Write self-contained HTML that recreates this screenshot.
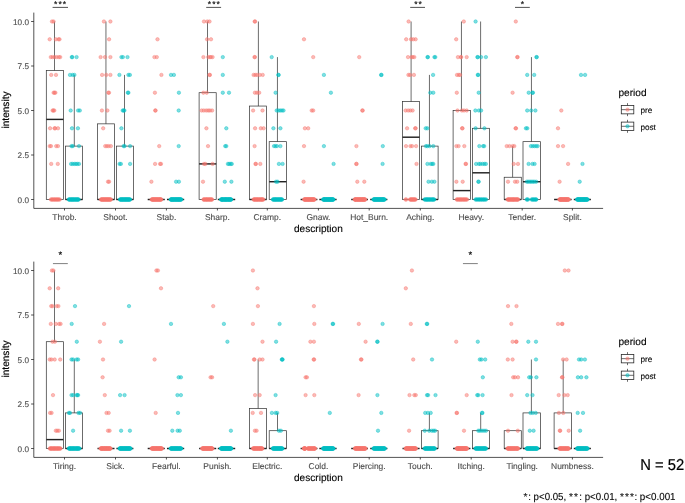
<!DOCTYPE html>
<html><head><meta charset="utf-8"><title>Pain intensity by description, pre vs post</title>
<style>html,body{margin:0;padding:0;background:#fff}body{width:685px;height:503px;overflow:hidden}svg{display:block}text{font-family:"Liberation Sans",Arial,sans-serif;text-rendering:geometricPrecision}.tk{font-size:8.45px;fill:#4d4d4d;stroke:#4d4d4d;stroke-width:.12}.ti{font-size:10.1px;fill:#000;stroke:#000;stroke-width:.12}.lg{font-size:8.2px;fill:#000;stroke:#000;stroke-width:.1}.ax{stroke:#1a1a1a;stroke-width:.75;fill:none}.bx{stroke:#333;stroke-width:.72;fill:none}.md{stroke:#222;stroke-width:1.45;fill:none}.p0{fill:#F8766D;fill-opacity:.5;stroke:#F8766D;stroke-opacity:.5;stroke-width:.8}.p1{fill:#00BFC4;fill-opacity:.5;stroke:#00BFC4;stroke-opacity:.5;stroke-width:.8}</style></head><body>
<svg width="685" height="503" viewBox="0 0 685 503">
<rect width="685" height="503" fill="#fff"/>
<g>
<path class="bx" d="M54.50 21.50V70.45"/>
<rect class="bx" x="46.30" y="70.45" width="17.10" height="129.05"/>
<path class="md" d="M46.30 119.40H63.40"/>
<path class="bx" d="M74.30 74.90V146.10"/>
<rect class="bx" x="65.50" y="146.10" width="17.10" height="53.40"/>
<path class="md" d="M65.50 199.50H82.60"/>
<path class="bx" d="M105.95 21.50V123.85"/>
<rect class="bx" x="97.50" y="123.85" width="17.00" height="75.65"/>
<path class="md" d="M97.50 199.50H114.50"/>
<path class="bx" d="M124.50 74.90V146.10"/>
<rect class="bx" x="116.40" y="146.10" width="17.00" height="53.40"/>
<path class="md" d="M116.40 199.50H133.40"/>
<path class="md" d="M147.70 199.50H164.80"/>
<path class="md" d="M167.00 199.50H184.20"/>
<path class="bx" d="M207.50 21.50V92.70"/>
<rect class="bx" x="199.10" y="92.70" width="17.10" height="106.80"/>
<path class="md" d="M199.10 163.90H216.20"/>
<path class="md" d="M217.80 199.50H235.20"/>
<path class="bx" d="M258.40 21.50V106.05"/>
<rect class="bx" x="249.50" y="106.05" width="17.10" height="93.45"/>
<path class="md" d="M249.50 199.50H266.60"/>
<path class="bx" d="M277.45 57.10V141.65"/>
<rect class="bx" x="269.20" y="141.65" width="17.20" height="57.85"/>
<path class="md" d="M269.20 181.70H286.40"/>
<path class="md" d="M300.60 199.50H317.40"/>
<path class="md" d="M319.30 199.50H336.60"/>
<path class="md" d="M351.20 199.50H368.00"/>
<path class="md" d="M370.20 199.50H387.40"/>
<path class="bx" d="M411.10 21.50V101.60"/>
<rect class="bx" x="402.50" y="101.60" width="17.10" height="97.90"/>
<path class="md" d="M402.50 137.20H419.60"/>
<path class="bx" d="M429.45 74.90V146.10"/>
<rect class="bx" x="421.50" y="146.10" width="16.60" height="53.40"/>
<path class="md" d="M421.50 199.50H438.10"/>
<path class="bx" d="M461.45 21.50V110.50"/>
<rect class="bx" x="453.10" y="110.50" width="17.30" height="89.00"/>
<path class="md" d="M453.10 190.60H470.40"/>
<path class="bx" d="M480.60 21.50V128.30"/>
<rect class="bx" x="472.40" y="128.30" width="17.20" height="71.20"/>
<path class="md" d="M472.40 172.80H489.60"/>
<path class="bx" d="M512.60 146.10V177.25"/>
<rect class="bx" x="504.20" y="177.25" width="17.10" height="22.25"/>
<path class="md" d="M504.20 199.50H521.30"/>
<path class="bx" d="M531.45 57.10V141.65"/>
<rect class="bx" x="523.00" y="141.65" width="17.50" height="57.85"/>
<path class="md" d="M523.00 181.70H540.50"/>
<path class="md" d="M554.10 199.50H571.60"/>
<path class="md" d="M573.80 199.50H590.90"/>
<circle class="p0" cx="52.0" cy="21.5" r="1.72"/>
<circle class="p0" cx="53.6" cy="21.5" r="1.72"/>
<circle class="p0" cx="49.7" cy="39.3" r="1.72"/>
<circle class="p0" cx="55.8" cy="39.3" r="1.72"/>
<circle class="p0" cx="58.5" cy="39.3" r="1.72"/>
<circle class="p0" cx="59.5" cy="39.3" r="1.72"/>
<circle class="p0" cx="50.8" cy="57.1" r="1.72"/>
<circle class="p0" cx="52.5" cy="57.1" r="1.72"/>
<circle class="p0" cx="54.5" cy="57.1" r="1.72"/>
<circle class="p0" cx="56.7" cy="57.1" r="1.72"/>
<circle class="p0" cx="58.9" cy="57.1" r="1.72"/>
<circle class="p0" cx="60.2" cy="57.1" r="1.72"/>
<circle class="p0" cx="51.2" cy="74.9" r="1.72"/>
<circle class="p0" cx="56.0" cy="74.9" r="1.72"/>
<circle class="p0" cx="53.6" cy="92.7" r="1.72"/>
<circle class="p0" cx="54.5" cy="92.7" r="1.72"/>
<circle class="p0" cx="55.4" cy="92.7" r="1.72"/>
<circle class="p0" cx="52.6" cy="110.5" r="1.72"/>
<circle class="p0" cx="53.4" cy="110.5" r="1.72"/>
<circle class="p0" cx="54.3" cy="110.5" r="1.72"/>
<circle class="p0" cx="50.1" cy="128.3" r="1.72"/>
<circle class="p0" cx="54.5" cy="128.3" r="1.72"/>
<circle class="p0" cx="55.2" cy="128.3" r="1.72"/>
<circle class="p0" cx="58.0" cy="128.3" r="1.72"/>
<circle class="p0" cx="49.7" cy="146.1" r="1.72"/>
<circle class="p0" cx="51.0" cy="146.1" r="1.72"/>
<circle class="p0" cx="56.2" cy="146.1" r="1.72"/>
<circle class="p0" cx="58.0" cy="146.1" r="1.72"/>
<circle class="p0" cx="51.2" cy="163.9" r="1.72"/>
<circle class="p0" cx="57.8" cy="163.9" r="1.72"/>
<circle class="p0" cx="50.9" cy="199.5" r="1.72"/>
<circle class="p0" cx="51.5" cy="199.5" r="1.72"/>
<circle class="p0" cx="52.5" cy="199.5" r="1.72"/>
<circle class="p0" cx="52.9" cy="199.5" r="1.72"/>
<circle class="p0" cx="53.9" cy="199.5" r="1.72"/>
<circle class="p0" cx="54.5" cy="199.5" r="1.72"/>
<circle class="p0" cx="55.2" cy="199.5" r="1.72"/>
<circle class="p0" cx="56.1" cy="199.5" r="1.72"/>
<circle class="p0" cx="56.6" cy="199.5" r="1.72"/>
<circle class="p0" cx="57.5" cy="199.5" r="1.72"/>
<circle class="p0" cx="58.1" cy="199.5" r="1.72"/>
<circle class="p0" cx="58.9" cy="199.5" r="1.72"/>
<circle class="p0" cx="59.8" cy="199.5" r="1.72"/>
<circle class="p1" cx="71.8" cy="57.1" r="1.72"/>
<circle class="p1" cx="72.3" cy="57.1" r="1.72"/>
<circle class="p1" cx="76.6" cy="57.1" r="1.72"/>
<circle class="p1" cx="70.0" cy="74.9" r="1.72"/>
<circle class="p1" cx="72.6" cy="74.9" r="1.72"/>
<circle class="p1" cx="74.4" cy="74.9" r="1.72"/>
<circle class="p1" cx="70.7" cy="110.5" r="1.72"/>
<circle class="p1" cx="78.1" cy="110.5" r="1.72"/>
<circle class="p1" cx="79.8" cy="110.5" r="1.72"/>
<circle class="p1" cx="72.0" cy="128.3" r="1.72"/>
<circle class="p1" cx="77.9" cy="128.3" r="1.72"/>
<circle class="p1" cx="71.5" cy="146.1" r="1.72"/>
<circle class="p1" cx="72.8" cy="146.1" r="1.72"/>
<circle class="p1" cx="79.0" cy="146.1" r="1.72"/>
<circle class="p1" cx="71.1" cy="163.9" r="1.72"/>
<circle class="p1" cx="72.6" cy="163.9" r="1.72"/>
<circle class="p1" cx="74.4" cy="163.9" r="1.72"/>
<circle class="p1" cx="75.9" cy="163.9" r="1.72"/>
<circle class="p1" cx="77.4" cy="163.9" r="1.72"/>
<circle class="p1" cx="79.0" cy="163.9" r="1.72"/>
<circle class="p1" cx="68.8" cy="199.5" r="1.72"/>
<circle class="p1" cx="69.1" cy="199.5" r="1.72"/>
<circle class="p1" cx="69.6" cy="199.5" r="1.72"/>
<circle class="p1" cx="70.2" cy="199.5" r="1.72"/>
<circle class="p1" cx="70.8" cy="199.5" r="1.72"/>
<circle class="p1" cx="71.1" cy="199.5" r="1.72"/>
<circle class="p1" cx="71.6" cy="199.5" r="1.72"/>
<circle class="p1" cx="72.2" cy="199.5" r="1.72"/>
<circle class="p1" cx="72.4" cy="199.5" r="1.72"/>
<circle class="p1" cx="73.1" cy="199.5" r="1.72"/>
<circle class="p1" cx="73.4" cy="199.5" r="1.72"/>
<circle class="p1" cx="73.9" cy="199.5" r="1.72"/>
<circle class="p1" cx="74.4" cy="199.5" r="1.72"/>
<circle class="p1" cx="74.9" cy="199.5" r="1.72"/>
<circle class="p1" cx="75.5" cy="199.5" r="1.72"/>
<circle class="p1" cx="75.8" cy="199.5" r="1.72"/>
<circle class="p1" cx="76.4" cy="199.5" r="1.72"/>
<circle class="p1" cx="76.9" cy="199.5" r="1.72"/>
<circle class="p1" cx="77.3" cy="199.5" r="1.72"/>
<circle class="p1" cx="77.9" cy="199.5" r="1.72"/>
<circle class="p1" cx="78.2" cy="199.5" r="1.72"/>
<circle class="p1" cx="78.7" cy="199.5" r="1.72"/>
<circle class="p0" cx="103.9" cy="21.5" r="1.72"/>
<circle class="p0" cx="110.4" cy="21.5" r="1.72"/>
<circle class="p0" cx="109.1" cy="39.3" r="1.72"/>
<circle class="p0" cx="100.6" cy="57.1" r="1.72"/>
<circle class="p0" cx="105.0" cy="57.1" r="1.72"/>
<circle class="p0" cx="110.4" cy="57.1" r="1.72"/>
<circle class="p0" cx="102.1" cy="74.9" r="1.72"/>
<circle class="p0" cx="106.3" cy="74.9" r="1.72"/>
<circle class="p0" cx="110.4" cy="74.9" r="1.72"/>
<circle class="p0" cx="108.3" cy="92.7" r="1.72"/>
<circle class="p0" cx="109.0" cy="92.7" r="1.72"/>
<circle class="p0" cx="101.9" cy="110.5" r="1.72"/>
<circle class="p0" cx="107.4" cy="110.5" r="1.72"/>
<circle class="p0" cx="103.2" cy="128.3" r="1.72"/>
<circle class="p0" cx="105.2" cy="146.1" r="1.72"/>
<circle class="p0" cx="106.9" cy="146.1" r="1.72"/>
<circle class="p0" cx="108.7" cy="146.1" r="1.72"/>
<circle class="p0" cx="110.9" cy="146.1" r="1.72"/>
<circle class="p0" cx="108.0" cy="181.7" r="1.72"/>
<circle class="p0" cx="109.1" cy="181.7" r="1.72"/>
<circle class="p0" cx="100.9" cy="199.5" r="1.72"/>
<circle class="p0" cx="101.3" cy="199.5" r="1.72"/>
<circle class="p0" cx="101.7" cy="199.5" r="1.72"/>
<circle class="p0" cx="102.1" cy="199.5" r="1.72"/>
<circle class="p0" cx="102.5" cy="199.5" r="1.72"/>
<circle class="p0" cx="102.9" cy="199.5" r="1.72"/>
<circle class="p0" cx="103.3" cy="199.5" r="1.72"/>
<circle class="p0" cx="103.8" cy="199.5" r="1.72"/>
<circle class="p0" cx="104.1" cy="199.5" r="1.72"/>
<circle class="p0" cx="104.4" cy="199.5" r="1.72"/>
<circle class="p0" cx="104.9" cy="199.5" r="1.72"/>
<circle class="p0" cx="105.3" cy="199.5" r="1.72"/>
<circle class="p0" cx="105.8" cy="199.5" r="1.72"/>
<circle class="p0" cx="106.2" cy="199.5" r="1.72"/>
<circle class="p0" cx="106.4" cy="199.5" r="1.72"/>
<circle class="p0" cx="107.0" cy="199.5" r="1.72"/>
<circle class="p0" cx="107.2" cy="199.5" r="1.72"/>
<circle class="p0" cx="107.7" cy="199.5" r="1.72"/>
<circle class="p0" cx="108.2" cy="199.5" r="1.72"/>
<circle class="p0" cx="108.4" cy="199.5" r="1.72"/>
<circle class="p0" cx="108.9" cy="199.5" r="1.72"/>
<circle class="p0" cx="109.2" cy="199.5" r="1.72"/>
<circle class="p0" cx="109.7" cy="199.5" r="1.72"/>
<circle class="p0" cx="110.2" cy="199.5" r="1.72"/>
<circle class="p0" cx="110.5" cy="199.5" r="1.72"/>
<circle class="p0" cx="110.9" cy="199.5" r="1.72"/>
<circle class="p1" cx="121.4" cy="57.1" r="1.72"/>
<circle class="p1" cx="122.9" cy="57.1" r="1.72"/>
<circle class="p1" cx="127.5" cy="57.1" r="1.72"/>
<circle class="p1" cx="119.4" cy="74.9" r="1.72"/>
<circle class="p1" cx="128.4" cy="74.9" r="1.72"/>
<circle class="p1" cx="129.9" cy="74.9" r="1.72"/>
<circle class="p1" cx="127.8" cy="92.7" r="1.72"/>
<circle class="p1" cx="128.4" cy="92.7" r="1.72"/>
<circle class="p1" cx="122.7" cy="110.5" r="1.72"/>
<circle class="p1" cx="123.6" cy="110.5" r="1.72"/>
<circle class="p1" cx="124.4" cy="110.5" r="1.72"/>
<circle class="p1" cx="121.4" cy="128.3" r="1.72"/>
<circle class="p1" cx="123.6" cy="146.1" r="1.72"/>
<circle class="p1" cx="124.6" cy="146.1" r="1.72"/>
<circle class="p1" cx="130.1" cy="146.1" r="1.72"/>
<circle class="p1" cx="119.6" cy="163.9" r="1.72"/>
<circle class="p1" cx="120.9" cy="163.9" r="1.72"/>
<circle class="p1" cx="130.1" cy="163.9" r="1.72"/>
<circle class="p1" cx="119.9" cy="199.5" r="1.72"/>
<circle class="p1" cx="120.3" cy="199.5" r="1.72"/>
<circle class="p1" cx="120.7" cy="199.5" r="1.72"/>
<circle class="p1" cx="121.1" cy="199.5" r="1.72"/>
<circle class="p1" cx="121.4" cy="199.5" r="1.72"/>
<circle class="p1" cx="121.9" cy="199.5" r="1.72"/>
<circle class="p1" cx="122.3" cy="199.5" r="1.72"/>
<circle class="p1" cx="122.6" cy="199.5" r="1.72"/>
<circle class="p1" cx="123.0" cy="199.5" r="1.72"/>
<circle class="p1" cx="123.2" cy="199.5" r="1.72"/>
<circle class="p1" cx="123.8" cy="199.5" r="1.72"/>
<circle class="p1" cx="124.1" cy="199.5" r="1.72"/>
<circle class="p1" cx="124.6" cy="199.5" r="1.72"/>
<circle class="p1" cx="124.9" cy="199.5" r="1.72"/>
<circle class="p1" cx="125.2" cy="199.5" r="1.72"/>
<circle class="p1" cx="125.6" cy="199.5" r="1.72"/>
<circle class="p1" cx="126.0" cy="199.5" r="1.72"/>
<circle class="p1" cx="126.3" cy="199.5" r="1.72"/>
<circle class="p1" cx="126.8" cy="199.5" r="1.72"/>
<circle class="p1" cx="127.1" cy="199.5" r="1.72"/>
<circle class="p1" cx="127.4" cy="199.5" r="1.72"/>
<circle class="p1" cx="127.8" cy="199.5" r="1.72"/>
<circle class="p1" cx="128.4" cy="199.5" r="1.72"/>
<circle class="p1" cx="128.6" cy="199.5" r="1.72"/>
<circle class="p1" cx="129.0" cy="199.5" r="1.72"/>
<circle class="p1" cx="129.4" cy="199.5" r="1.72"/>
<circle class="p1" cx="129.9" cy="199.5" r="1.72"/>
<circle class="p1" cx="130.1" cy="199.5" r="1.72"/>
<circle class="p0" cx="157.5" cy="39.3" r="1.72"/>
<circle class="p0" cx="154.4" cy="57.1" r="1.72"/>
<circle class="p0" cx="156.8" cy="57.1" r="1.72"/>
<circle class="p0" cx="161.4" cy="74.9" r="1.72"/>
<circle class="p0" cx="154.9" cy="92.7" r="1.72"/>
<circle class="p0" cx="155.3" cy="110.5" r="1.72"/>
<circle class="p0" cx="155.5" cy="110.5" r="1.72"/>
<circle class="p0" cx="159.2" cy="146.1" r="1.72"/>
<circle class="p0" cx="155.1" cy="163.9" r="1.72"/>
<circle class="p0" cx="160.1" cy="163.9" r="1.72"/>
<circle class="p0" cx="161.0" cy="163.9" r="1.72"/>
<circle class="p0" cx="151.4" cy="181.7" r="1.72"/>
<circle class="p0" cx="151.6" cy="199.5" r="1.72"/>
<circle class="p0" cx="151.9" cy="199.5" r="1.72"/>
<circle class="p0" cx="152.3" cy="199.5" r="1.72"/>
<circle class="p0" cx="152.7" cy="199.5" r="1.72"/>
<circle class="p0" cx="153.0" cy="199.5" r="1.72"/>
<circle class="p0" cx="153.2" cy="199.5" r="1.72"/>
<circle class="p0" cx="153.6" cy="199.5" r="1.72"/>
<circle class="p0" cx="153.9" cy="199.5" r="1.72"/>
<circle class="p0" cx="154.4" cy="199.5" r="1.72"/>
<circle class="p0" cx="154.7" cy="199.5" r="1.72"/>
<circle class="p0" cx="154.9" cy="199.5" r="1.72"/>
<circle class="p0" cx="155.2" cy="199.5" r="1.72"/>
<circle class="p0" cx="155.6" cy="199.5" r="1.72"/>
<circle class="p0" cx="155.9" cy="199.5" r="1.72"/>
<circle class="p0" cx="156.3" cy="199.5" r="1.72"/>
<circle class="p0" cx="156.6" cy="199.5" r="1.72"/>
<circle class="p0" cx="156.9" cy="199.5" r="1.72"/>
<circle class="p0" cx="157.2" cy="199.5" r="1.72"/>
<circle class="p0" cx="157.6" cy="199.5" r="1.72"/>
<circle class="p0" cx="157.9" cy="199.5" r="1.72"/>
<circle class="p0" cx="158.3" cy="199.5" r="1.72"/>
<circle class="p0" cx="158.7" cy="199.5" r="1.72"/>
<circle class="p0" cx="159.0" cy="199.5" r="1.72"/>
<circle class="p0" cx="159.3" cy="199.5" r="1.72"/>
<circle class="p0" cx="159.7" cy="199.5" r="1.72"/>
<circle class="p0" cx="160.0" cy="199.5" r="1.72"/>
<circle class="p0" cx="160.2" cy="199.5" r="1.72"/>
<circle class="p0" cx="160.7" cy="199.5" r="1.72"/>
<circle class="p0" cx="161.0" cy="199.5" r="1.72"/>
<circle class="p0" cx="161.3" cy="199.5" r="1.72"/>
<circle class="p1" cx="171.0" cy="74.9" r="1.72"/>
<circle class="p1" cx="173.9" cy="74.9" r="1.72"/>
<circle class="p1" cx="178.9" cy="92.7" r="1.72"/>
<circle class="p1" cx="178.7" cy="110.5" r="1.72"/>
<circle class="p1" cx="178.7" cy="146.1" r="1.72"/>
<circle class="p1" cx="176.1" cy="181.7" r="1.72"/>
<circle class="p1" cx="178.9" cy="181.7" r="1.72"/>
<circle class="p1" cx="170.7" cy="199.5" r="1.72"/>
<circle class="p1" cx="170.9" cy="199.5" r="1.72"/>
<circle class="p1" cx="171.2" cy="199.5" r="1.72"/>
<circle class="p1" cx="171.4" cy="199.5" r="1.72"/>
<circle class="p1" cx="171.8" cy="199.5" r="1.72"/>
<circle class="p1" cx="172.0" cy="199.5" r="1.72"/>
<circle class="p1" cx="172.4" cy="199.5" r="1.72"/>
<circle class="p1" cx="172.7" cy="199.5" r="1.72"/>
<circle class="p1" cx="173.0" cy="199.5" r="1.72"/>
<circle class="p1" cx="173.3" cy="199.5" r="1.72"/>
<circle class="p1" cx="173.6" cy="199.5" r="1.72"/>
<circle class="p1" cx="173.9" cy="199.5" r="1.72"/>
<circle class="p1" cx="174.2" cy="199.5" r="1.72"/>
<circle class="p1" cx="174.5" cy="199.5" r="1.72"/>
<circle class="p1" cx="174.9" cy="199.5" r="1.72"/>
<circle class="p1" cx="175.1" cy="199.5" r="1.72"/>
<circle class="p1" cx="175.6" cy="199.5" r="1.72"/>
<circle class="p1" cx="175.8" cy="199.5" r="1.72"/>
<circle class="p1" cx="176.0" cy="199.5" r="1.72"/>
<circle class="p1" cx="176.4" cy="199.5" r="1.72"/>
<circle class="p1" cx="176.7" cy="199.5" r="1.72"/>
<circle class="p1" cx="177.0" cy="199.5" r="1.72"/>
<circle class="p1" cx="177.3" cy="199.5" r="1.72"/>
<circle class="p1" cx="177.7" cy="199.5" r="1.72"/>
<circle class="p1" cx="178.0" cy="199.5" r="1.72"/>
<circle class="p1" cx="178.2" cy="199.5" r="1.72"/>
<circle class="p1" cx="178.5" cy="199.5" r="1.72"/>
<circle class="p1" cx="178.8" cy="199.5" r="1.72"/>
<circle class="p1" cx="179.1" cy="199.5" r="1.72"/>
<circle class="p1" cx="179.4" cy="199.5" r="1.72"/>
<circle class="p1" cx="179.7" cy="199.5" r="1.72"/>
<circle class="p1" cx="180.1" cy="199.5" r="1.72"/>
<circle class="p1" cx="180.3" cy="199.5" r="1.72"/>
<circle class="p1" cx="180.6" cy="199.5" r="1.72"/>
<circle class="p1" cx="181.1" cy="199.5" r="1.72"/>
<circle class="p1" cx="181.3" cy="199.5" r="1.72"/>
<circle class="p0" cx="204.0" cy="21.5" r="1.72"/>
<circle class="p0" cx="207.3" cy="21.5" r="1.72"/>
<circle class="p0" cx="209.5" cy="21.5" r="1.72"/>
<circle class="p0" cx="207.1" cy="39.3" r="1.72"/>
<circle class="p0" cx="211.0" cy="39.3" r="1.72"/>
<circle class="p0" cx="203.4" cy="57.1" r="1.72"/>
<circle class="p0" cx="208.2" cy="57.1" r="1.72"/>
<circle class="p0" cx="209.9" cy="57.1" r="1.72"/>
<circle class="p0" cx="211.0" cy="57.1" r="1.72"/>
<circle class="p0" cx="212.6" cy="57.1" r="1.72"/>
<circle class="p0" cx="209.5" cy="74.9" r="1.72"/>
<circle class="p0" cx="209.9" cy="74.9" r="1.72"/>
<circle class="p0" cx="203.4" cy="92.7" r="1.72"/>
<circle class="p0" cx="206.7" cy="92.7" r="1.72"/>
<circle class="p0" cx="201.6" cy="110.5" r="1.72"/>
<circle class="p0" cx="203.8" cy="110.5" r="1.72"/>
<circle class="p0" cx="206.2" cy="110.5" r="1.72"/>
<circle class="p0" cx="208.2" cy="110.5" r="1.72"/>
<circle class="p0" cx="209.9" cy="110.5" r="1.72"/>
<circle class="p0" cx="212.1" cy="110.5" r="1.72"/>
<circle class="p0" cx="206.4" cy="128.3" r="1.72"/>
<circle class="p0" cx="208.0" cy="146.1" r="1.72"/>
<circle class="p0" cx="204.0" cy="163.9" r="1.72"/>
<circle class="p0" cx="205.4" cy="163.9" r="1.72"/>
<circle class="p0" cx="212.6" cy="163.9" r="1.72"/>
<circle class="p0" cx="203.0" cy="181.7" r="1.72"/>
<circle class="p0" cx="203.4" cy="199.5" r="1.72"/>
<circle class="p0" cx="203.9" cy="199.5" r="1.72"/>
<circle class="p0" cx="204.3" cy="199.5" r="1.72"/>
<circle class="p0" cx="204.9" cy="199.5" r="1.72"/>
<circle class="p0" cx="205.6" cy="199.5" r="1.72"/>
<circle class="p0" cx="206.1" cy="199.5" r="1.72"/>
<circle class="p0" cx="206.5" cy="199.5" r="1.72"/>
<circle class="p0" cx="206.9" cy="199.5" r="1.72"/>
<circle class="p0" cx="207.5" cy="199.5" r="1.72"/>
<circle class="p0" cx="207.9" cy="199.5" r="1.72"/>
<circle class="p0" cx="208.6" cy="199.5" r="1.72"/>
<circle class="p0" cx="209.0" cy="199.5" r="1.72"/>
<circle class="p0" cx="209.6" cy="199.5" r="1.72"/>
<circle class="p0" cx="210.0" cy="199.5" r="1.72"/>
<circle class="p0" cx="210.5" cy="199.5" r="1.72"/>
<circle class="p0" cx="211.2" cy="199.5" r="1.72"/>
<circle class="p0" cx="211.7" cy="199.5" r="1.72"/>
<circle class="p0" cx="212.1" cy="199.5" r="1.72"/>
<circle class="p1" cx="222.8" cy="57.1" r="1.72"/>
<circle class="p1" cx="222.8" cy="74.9" r="1.72"/>
<circle class="p1" cx="222.8" cy="92.7" r="1.72"/>
<circle class="p1" cx="229.0" cy="92.7" r="1.72"/>
<circle class="p1" cx="226.3" cy="128.3" r="1.72"/>
<circle class="p1" cx="225.2" cy="146.1" r="1.72"/>
<circle class="p1" cx="226.3" cy="146.1" r="1.72"/>
<circle class="p1" cx="227.9" cy="163.9" r="1.72"/>
<circle class="p1" cx="229.2" cy="163.9" r="1.72"/>
<circle class="p1" cx="230.7" cy="163.9" r="1.72"/>
<circle class="p1" cx="231.8" cy="163.9" r="1.72"/>
<circle class="p1" cx="224.8" cy="181.7" r="1.72"/>
<circle class="p1" cx="231.4" cy="181.7" r="1.72"/>
<circle class="p1" cx="221.0" cy="199.5" r="1.72"/>
<circle class="p1" cx="221.3" cy="199.5" r="1.72"/>
<circle class="p1" cx="221.6" cy="199.5" r="1.72"/>
<circle class="p1" cx="221.8" cy="199.5" r="1.72"/>
<circle class="p1" cx="222.2" cy="199.5" r="1.72"/>
<circle class="p1" cx="222.4" cy="199.5" r="1.72"/>
<circle class="p1" cx="222.7" cy="199.5" r="1.72"/>
<circle class="p1" cx="223.0" cy="199.5" r="1.72"/>
<circle class="p1" cx="223.4" cy="199.5" r="1.72"/>
<circle class="p1" cx="223.7" cy="199.5" r="1.72"/>
<circle class="p1" cx="224.1" cy="199.5" r="1.72"/>
<circle class="p1" cx="224.5" cy="199.5" r="1.72"/>
<circle class="p1" cx="224.7" cy="199.5" r="1.72"/>
<circle class="p1" cx="225.1" cy="199.5" r="1.72"/>
<circle class="p1" cx="225.4" cy="199.5" r="1.72"/>
<circle class="p1" cx="225.7" cy="199.5" r="1.72"/>
<circle class="p1" cx="225.9" cy="199.5" r="1.72"/>
<circle class="p1" cx="226.2" cy="199.5" r="1.72"/>
<circle class="p1" cx="226.5" cy="199.5" r="1.72"/>
<circle class="p1" cx="226.8" cy="199.5" r="1.72"/>
<circle class="p1" cx="227.1" cy="199.5" r="1.72"/>
<circle class="p1" cx="227.5" cy="199.5" r="1.72"/>
<circle class="p1" cx="227.9" cy="199.5" r="1.72"/>
<circle class="p1" cx="228.2" cy="199.5" r="1.72"/>
<circle class="p1" cx="228.5" cy="199.5" r="1.72"/>
<circle class="p1" cx="228.8" cy="199.5" r="1.72"/>
<circle class="p1" cx="229.2" cy="199.5" r="1.72"/>
<circle class="p1" cx="229.3" cy="199.5" r="1.72"/>
<circle class="p1" cx="229.8" cy="199.5" r="1.72"/>
<circle class="p1" cx="230.1" cy="199.5" r="1.72"/>
<circle class="p1" cx="230.4" cy="199.5" r="1.72"/>
<circle class="p1" cx="230.7" cy="199.5" r="1.72"/>
<circle class="p1" cx="231.0" cy="199.5" r="1.72"/>
<circle class="p1" cx="231.2" cy="199.5" r="1.72"/>
<circle class="p0" cx="254.7" cy="21.5" r="1.72"/>
<circle class="p0" cx="255.1" cy="21.5" r="1.72"/>
<circle class="p0" cx="254.5" cy="57.1" r="1.72"/>
<circle class="p0" cx="254.9" cy="57.1" r="1.72"/>
<circle class="p0" cx="253.6" cy="74.9" r="1.72"/>
<circle class="p0" cx="255.3" cy="74.9" r="1.72"/>
<circle class="p0" cx="257.0" cy="74.9" r="1.72"/>
<circle class="p0" cx="259.7" cy="74.9" r="1.72"/>
<circle class="p0" cx="262.7" cy="74.9" r="1.72"/>
<circle class="p0" cx="254.9" cy="92.7" r="1.72"/>
<circle class="p0" cx="257.0" cy="92.7" r="1.72"/>
<circle class="p0" cx="259.2" cy="92.7" r="1.72"/>
<circle class="p0" cx="253.1" cy="110.5" r="1.72"/>
<circle class="p0" cx="262.5" cy="110.5" r="1.72"/>
<circle class="p0" cx="255.1" cy="128.3" r="1.72"/>
<circle class="p0" cx="260.8" cy="128.3" r="1.72"/>
<circle class="p0" cx="263.6" cy="128.3" r="1.72"/>
<circle class="p0" cx="254.6" cy="146.1" r="1.72"/>
<circle class="p0" cx="255.5" cy="163.9" r="1.72"/>
<circle class="p0" cx="255.9" cy="163.9" r="1.72"/>
<circle class="p0" cx="260.3" cy="163.9" r="1.72"/>
<circle class="p0" cx="253.6" cy="199.5" r="1.72"/>
<circle class="p0" cx="253.9" cy="199.5" r="1.72"/>
<circle class="p0" cx="254.5" cy="199.5" r="1.72"/>
<circle class="p0" cx="255.0" cy="199.5" r="1.72"/>
<circle class="p0" cx="255.4" cy="199.5" r="1.72"/>
<circle class="p0" cx="255.8" cy="199.5" r="1.72"/>
<circle class="p0" cx="256.5" cy="199.5" r="1.72"/>
<circle class="p0" cx="256.9" cy="199.5" r="1.72"/>
<circle class="p0" cx="257.2" cy="199.5" r="1.72"/>
<circle class="p0" cx="257.6" cy="199.5" r="1.72"/>
<circle class="p0" cx="258.1" cy="199.5" r="1.72"/>
<circle class="p0" cx="258.8" cy="199.5" r="1.72"/>
<circle class="p0" cx="259.2" cy="199.5" r="1.72"/>
<circle class="p0" cx="259.5" cy="199.5" r="1.72"/>
<circle class="p0" cx="260.2" cy="199.5" r="1.72"/>
<circle class="p0" cx="260.7" cy="199.5" r="1.72"/>
<circle class="p0" cx="261.1" cy="199.5" r="1.72"/>
<circle class="p0" cx="261.5" cy="199.5" r="1.72"/>
<circle class="p0" cx="262.0" cy="199.5" r="1.72"/>
<circle class="p0" cx="262.4" cy="199.5" r="1.72"/>
<circle class="p0" cx="262.8" cy="199.5" r="1.72"/>
<circle class="p0" cx="263.4" cy="199.5" r="1.72"/>
<circle class="p1" cx="271.7" cy="57.1" r="1.72"/>
<circle class="p1" cx="278.3" cy="74.9" r="1.72"/>
<circle class="p1" cx="278.7" cy="74.9" r="1.72"/>
<circle class="p1" cx="275.6" cy="92.7" r="1.72"/>
<circle class="p1" cx="276.7" cy="110.5" r="1.72"/>
<circle class="p1" cx="278.5" cy="110.5" r="1.72"/>
<circle class="p1" cx="280.3" cy="110.5" r="1.72"/>
<circle class="p1" cx="282.0" cy="110.5" r="1.72"/>
<circle class="p1" cx="283.5" cy="110.5" r="1.72"/>
<circle class="p1" cx="273.4" cy="128.3" r="1.72"/>
<circle class="p1" cx="280.4" cy="128.3" r="1.72"/>
<circle class="p1" cx="274.0" cy="146.1" r="1.72"/>
<circle class="p1" cx="275.5" cy="146.1" r="1.72"/>
<circle class="p1" cx="277.0" cy="146.1" r="1.72"/>
<circle class="p1" cx="280.4" cy="146.1" r="1.72"/>
<circle class="p1" cx="278.9" cy="163.9" r="1.72"/>
<circle class="p1" cx="282.6" cy="163.9" r="1.72"/>
<circle class="p1" cx="276.0" cy="181.7" r="1.72"/>
<circle class="p1" cx="277.6" cy="181.7" r="1.72"/>
<circle class="p1" cx="272.8" cy="199.5" r="1.72"/>
<circle class="p1" cx="273.2" cy="199.5" r="1.72"/>
<circle class="p1" cx="273.8" cy="199.5" r="1.72"/>
<circle class="p1" cx="274.1" cy="199.5" r="1.72"/>
<circle class="p1" cx="274.7" cy="199.5" r="1.72"/>
<circle class="p1" cx="275.1" cy="199.5" r="1.72"/>
<circle class="p1" cx="275.4" cy="199.5" r="1.72"/>
<circle class="p1" cx="275.8" cy="199.5" r="1.72"/>
<circle class="p1" cx="276.3" cy="199.5" r="1.72"/>
<circle class="p1" cx="276.7" cy="199.5" r="1.72"/>
<circle class="p1" cx="277.3" cy="199.5" r="1.72"/>
<circle class="p1" cx="277.6" cy="199.5" r="1.72"/>
<circle class="p1" cx="278.1" cy="199.5" r="1.72"/>
<circle class="p1" cx="278.5" cy="199.5" r="1.72"/>
<circle class="p1" cx="279.1" cy="199.5" r="1.72"/>
<circle class="p1" cx="279.4" cy="199.5" r="1.72"/>
<circle class="p1" cx="279.9" cy="199.5" r="1.72"/>
<circle class="p1" cx="280.4" cy="199.5" r="1.72"/>
<circle class="p1" cx="280.9" cy="199.5" r="1.72"/>
<circle class="p1" cx="281.2" cy="199.5" r="1.72"/>
<circle class="p1" cx="281.8" cy="199.5" r="1.72"/>
<circle class="p1" cx="282.1" cy="199.5" r="1.72"/>
<circle class="p0" cx="304.0" cy="39.3" r="1.72"/>
<circle class="p0" cx="313.2" cy="57.1" r="1.72"/>
<circle class="p0" cx="311.7" cy="110.5" r="1.72"/>
<circle class="p0" cx="313.2" cy="110.5" r="1.72"/>
<circle class="p0" cx="304.9" cy="128.3" r="1.72"/>
<circle class="p0" cx="308.2" cy="128.3" r="1.72"/>
<circle class="p0" cx="304.0" cy="146.1" r="1.72"/>
<circle class="p0" cx="303.6" cy="181.7" r="1.72"/>
<circle class="p0" cx="304.1" cy="199.5" r="1.72"/>
<circle class="p0" cx="304.4" cy="199.5" r="1.72"/>
<circle class="p0" cx="304.6" cy="199.5" r="1.72"/>
<circle class="p0" cx="305.0" cy="199.5" r="1.72"/>
<circle class="p0" cx="305.2" cy="199.5" r="1.72"/>
<circle class="p0" cx="305.5" cy="199.5" r="1.72"/>
<circle class="p0" cx="305.9" cy="199.5" r="1.72"/>
<circle class="p0" cx="306.1" cy="199.5" r="1.72"/>
<circle class="p0" cx="306.5" cy="199.5" r="1.72"/>
<circle class="p0" cx="306.8" cy="199.5" r="1.72"/>
<circle class="p0" cx="307.1" cy="199.5" r="1.72"/>
<circle class="p0" cx="307.3" cy="199.5" r="1.72"/>
<circle class="p0" cx="307.7" cy="199.5" r="1.72"/>
<circle class="p0" cx="308.0" cy="199.5" r="1.72"/>
<circle class="p0" cx="308.3" cy="199.5" r="1.72"/>
<circle class="p0" cx="308.5" cy="199.5" r="1.72"/>
<circle class="p0" cx="308.9" cy="199.5" r="1.72"/>
<circle class="p0" cx="309.1" cy="199.5" r="1.72"/>
<circle class="p0" cx="309.4" cy="199.5" r="1.72"/>
<circle class="p0" cx="309.8" cy="199.5" r="1.72"/>
<circle class="p0" cx="310.0" cy="199.5" r="1.72"/>
<circle class="p0" cx="310.4" cy="199.5" r="1.72"/>
<circle class="p0" cx="310.7" cy="199.5" r="1.72"/>
<circle class="p0" cx="311.0" cy="199.5" r="1.72"/>
<circle class="p0" cx="311.2" cy="199.5" r="1.72"/>
<circle class="p0" cx="311.5" cy="199.5" r="1.72"/>
<circle class="p0" cx="311.8" cy="199.5" r="1.72"/>
<circle class="p0" cx="312.1" cy="199.5" r="1.72"/>
<circle class="p0" cx="312.5" cy="199.5" r="1.72"/>
<circle class="p0" cx="312.7" cy="199.5" r="1.72"/>
<circle class="p0" cx="313.0" cy="199.5" r="1.72"/>
<circle class="p0" cx="313.3" cy="199.5" r="1.72"/>
<circle class="p0" cx="313.7" cy="199.5" r="1.72"/>
<circle class="p0" cx="313.9" cy="199.5" r="1.72"/>
<circle class="p0" cx="314.3" cy="199.5" r="1.72"/>
<circle class="p0" cx="314.5" cy="199.5" r="1.72"/>
<circle class="p1" cx="323.9" cy="74.9" r="1.72"/>
<circle class="p1" cx="330.9" cy="92.7" r="1.72"/>
<circle class="p1" cx="323.9" cy="146.1" r="1.72"/>
<circle class="p1" cx="333.6" cy="163.9" r="1.72"/>
<circle class="p1" cx="323.1" cy="199.5" r="1.72"/>
<circle class="p1" cx="323.4" cy="199.5" r="1.72"/>
<circle class="p1" cx="323.7" cy="199.5" r="1.72"/>
<circle class="p1" cx="324.0" cy="199.5" r="1.72"/>
<circle class="p1" cx="324.1" cy="199.5" r="1.72"/>
<circle class="p1" cx="324.4" cy="199.5" r="1.72"/>
<circle class="p1" cx="324.7" cy="199.5" r="1.72"/>
<circle class="p1" cx="324.9" cy="199.5" r="1.72"/>
<circle class="p1" cx="325.2" cy="199.5" r="1.72"/>
<circle class="p1" cx="325.4" cy="199.5" r="1.72"/>
<circle class="p1" cx="325.8" cy="199.5" r="1.72"/>
<circle class="p1" cx="326.1" cy="199.5" r="1.72"/>
<circle class="p1" cx="326.4" cy="199.5" r="1.72"/>
<circle class="p1" cx="326.5" cy="199.5" r="1.72"/>
<circle class="p1" cx="326.9" cy="199.5" r="1.72"/>
<circle class="p1" cx="327.1" cy="199.5" r="1.72"/>
<circle class="p1" cx="327.3" cy="199.5" r="1.72"/>
<circle class="p1" cx="327.7" cy="199.5" r="1.72"/>
<circle class="p1" cx="328.0" cy="199.5" r="1.72"/>
<circle class="p1" cx="328.1" cy="199.5" r="1.72"/>
<circle class="p1" cx="328.5" cy="199.5" r="1.72"/>
<circle class="p1" cx="328.7" cy="199.5" r="1.72"/>
<circle class="p1" cx="329.0" cy="199.5" r="1.72"/>
<circle class="p1" cx="329.3" cy="199.5" r="1.72"/>
<circle class="p1" cx="329.6" cy="199.5" r="1.72"/>
<circle class="p1" cx="329.7" cy="199.5" r="1.72"/>
<circle class="p1" cx="330.0" cy="199.5" r="1.72"/>
<circle class="p1" cx="330.3" cy="199.5" r="1.72"/>
<circle class="p1" cx="330.5" cy="199.5" r="1.72"/>
<circle class="p1" cx="330.8" cy="199.5" r="1.72"/>
<circle class="p1" cx="331.1" cy="199.5" r="1.72"/>
<circle class="p1" cx="331.4" cy="199.5" r="1.72"/>
<circle class="p1" cx="331.6" cy="199.5" r="1.72"/>
<circle class="p1" cx="331.9" cy="199.5" r="1.72"/>
<circle class="p1" cx="332.2" cy="199.5" r="1.72"/>
<circle class="p1" cx="332.4" cy="199.5" r="1.72"/>
<circle class="p1" cx="332.7" cy="199.5" r="1.72"/>
<circle class="p1" cx="333.0" cy="199.5" r="1.72"/>
<circle class="p1" cx="333.2" cy="199.5" r="1.72"/>
<circle class="p1" cx="333.4" cy="199.5" r="1.72"/>
<circle class="p0" cx="359.2" cy="57.1" r="1.72"/>
<circle class="p0" cx="362.3" cy="110.5" r="1.72"/>
<circle class="p0" cx="362.7" cy="110.5" r="1.72"/>
<circle class="p0" cx="356.4" cy="146.1" r="1.72"/>
<circle class="p0" cx="356.2" cy="163.9" r="1.72"/>
<circle class="p0" cx="356.6" cy="163.9" r="1.72"/>
<circle class="p0" cx="357.3" cy="181.7" r="1.72"/>
<circle class="p0" cx="364.3" cy="181.7" r="1.72"/>
<circle class="p0" cx="354.6" cy="199.5" r="1.72"/>
<circle class="p0" cx="354.9" cy="199.5" r="1.72"/>
<circle class="p0" cx="355.2" cy="199.5" r="1.72"/>
<circle class="p0" cx="355.4" cy="199.5" r="1.72"/>
<circle class="p0" cx="355.7" cy="199.5" r="1.72"/>
<circle class="p0" cx="356.0" cy="199.5" r="1.72"/>
<circle class="p0" cx="356.4" cy="199.5" r="1.72"/>
<circle class="p0" cx="356.6" cy="199.5" r="1.72"/>
<circle class="p0" cx="356.9" cy="199.5" r="1.72"/>
<circle class="p0" cx="357.3" cy="199.5" r="1.72"/>
<circle class="p0" cx="357.7" cy="199.5" r="1.72"/>
<circle class="p0" cx="358.0" cy="199.5" r="1.72"/>
<circle class="p0" cx="358.2" cy="199.5" r="1.72"/>
<circle class="p0" cx="358.4" cy="199.5" r="1.72"/>
<circle class="p0" cx="358.9" cy="199.5" r="1.72"/>
<circle class="p0" cx="359.1" cy="199.5" r="1.72"/>
<circle class="p0" cx="359.5" cy="199.5" r="1.72"/>
<circle class="p0" cx="359.7" cy="199.5" r="1.72"/>
<circle class="p0" cx="360.0" cy="199.5" r="1.72"/>
<circle class="p0" cx="360.4" cy="199.5" r="1.72"/>
<circle class="p0" cx="360.7" cy="199.5" r="1.72"/>
<circle class="p0" cx="360.9" cy="199.5" r="1.72"/>
<circle class="p0" cx="361.4" cy="199.5" r="1.72"/>
<circle class="p0" cx="361.6" cy="199.5" r="1.72"/>
<circle class="p0" cx="362.0" cy="199.5" r="1.72"/>
<circle class="p0" cx="362.1" cy="199.5" r="1.72"/>
<circle class="p0" cx="362.6" cy="199.5" r="1.72"/>
<circle class="p0" cx="362.8" cy="199.5" r="1.72"/>
<circle class="p0" cx="363.2" cy="199.5" r="1.72"/>
<circle class="p0" cx="363.4" cy="199.5" r="1.72"/>
<circle class="p0" cx="363.7" cy="199.5" r="1.72"/>
<circle class="p0" cx="364.1" cy="199.5" r="1.72"/>
<circle class="p0" cx="364.5" cy="199.5" r="1.72"/>
<circle class="p0" cx="364.6" cy="199.5" r="1.72"/>
<circle class="p0" cx="364.9" cy="199.5" r="1.72"/>
<circle class="p0" cx="365.3" cy="199.5" r="1.72"/>
<circle class="p1" cx="381.1" cy="74.9" r="1.72"/>
<circle class="p1" cx="381.5" cy="74.9" r="1.72"/>
<circle class="p1" cx="382.8" cy="146.1" r="1.72"/>
<circle class="p1" cx="382.6" cy="163.9" r="1.72"/>
<circle class="p1" cx="373.5" cy="199.5" r="1.72"/>
<circle class="p1" cx="373.7" cy="199.5" r="1.72"/>
<circle class="p1" cx="374.0" cy="199.5" r="1.72"/>
<circle class="p1" cx="374.3" cy="199.5" r="1.72"/>
<circle class="p1" cx="374.6" cy="199.5" r="1.72"/>
<circle class="p1" cx="374.9" cy="199.5" r="1.72"/>
<circle class="p1" cx="375.2" cy="199.5" r="1.72"/>
<circle class="p1" cx="375.5" cy="199.5" r="1.72"/>
<circle class="p1" cx="375.7" cy="199.5" r="1.72"/>
<circle class="p1" cx="376.1" cy="199.5" r="1.72"/>
<circle class="p1" cx="376.3" cy="199.5" r="1.72"/>
<circle class="p1" cx="376.6" cy="199.5" r="1.72"/>
<circle class="p1" cx="376.8" cy="199.5" r="1.72"/>
<circle class="p1" cx="377.2" cy="199.5" r="1.72"/>
<circle class="p1" cx="377.4" cy="199.5" r="1.72"/>
<circle class="p1" cx="377.8" cy="199.5" r="1.72"/>
<circle class="p1" cx="378.1" cy="199.5" r="1.72"/>
<circle class="p1" cx="378.3" cy="199.5" r="1.72"/>
<circle class="p1" cx="378.6" cy="199.5" r="1.72"/>
<circle class="p1" cx="379.0" cy="199.5" r="1.72"/>
<circle class="p1" cx="379.1" cy="199.5" r="1.72"/>
<circle class="p1" cx="379.5" cy="199.5" r="1.72"/>
<circle class="p1" cx="379.7" cy="199.5" r="1.72"/>
<circle class="p1" cx="380.0" cy="199.5" r="1.72"/>
<circle class="p1" cx="380.4" cy="199.5" r="1.72"/>
<circle class="p1" cx="380.6" cy="199.5" r="1.72"/>
<circle class="p1" cx="380.9" cy="199.5" r="1.72"/>
<circle class="p1" cx="381.2" cy="199.5" r="1.72"/>
<circle class="p1" cx="381.6" cy="199.5" r="1.72"/>
<circle class="p1" cx="381.7" cy="199.5" r="1.72"/>
<circle class="p1" cx="382.1" cy="199.5" r="1.72"/>
<circle class="p1" cx="382.4" cy="199.5" r="1.72"/>
<circle class="p1" cx="382.6" cy="199.5" r="1.72"/>
<circle class="p1" cx="382.9" cy="199.5" r="1.72"/>
<circle class="p1" cx="383.2" cy="199.5" r="1.72"/>
<circle class="p1" cx="383.4" cy="199.5" r="1.72"/>
<circle class="p1" cx="383.7" cy="199.5" r="1.72"/>
<circle class="p1" cx="384.0" cy="199.5" r="1.72"/>
<circle class="p1" cx="384.4" cy="199.5" r="1.72"/>
<circle class="p1" cx="384.6" cy="199.5" r="1.72"/>
<circle class="p0" cx="408.6" cy="21.5" r="1.72"/>
<circle class="p0" cx="406.2" cy="39.3" r="1.72"/>
<circle class="p0" cx="411.0" cy="39.3" r="1.72"/>
<circle class="p0" cx="413.2" cy="39.3" r="1.72"/>
<circle class="p0" cx="415.6" cy="39.3" r="1.72"/>
<circle class="p0" cx="408.0" cy="57.1" r="1.72"/>
<circle class="p0" cx="411.5" cy="57.1" r="1.72"/>
<circle class="p0" cx="412.8" cy="57.1" r="1.72"/>
<circle class="p0" cx="414.3" cy="57.1" r="1.72"/>
<circle class="p0" cx="408.4" cy="74.9" r="1.72"/>
<circle class="p0" cx="410.0" cy="74.9" r="1.72"/>
<circle class="p0" cx="413.9" cy="74.9" r="1.72"/>
<circle class="p0" cx="405.6" cy="110.5" r="1.72"/>
<circle class="p0" cx="408.2" cy="110.5" r="1.72"/>
<circle class="p0" cx="410.4" cy="110.5" r="1.72"/>
<circle class="p0" cx="412.6" cy="110.5" r="1.72"/>
<circle class="p0" cx="407.1" cy="128.3" r="1.72"/>
<circle class="p0" cx="415.2" cy="128.3" r="1.72"/>
<circle class="p0" cx="415.6" cy="128.3" r="1.72"/>
<circle class="p0" cx="406.0" cy="146.1" r="1.72"/>
<circle class="p0" cx="410.4" cy="146.1" r="1.72"/>
<circle class="p0" cx="412.1" cy="146.1" r="1.72"/>
<circle class="p0" cx="416.1" cy="146.1" r="1.72"/>
<circle class="p0" cx="416.5" cy="163.9" r="1.72"/>
<circle class="p0" cx="405.5" cy="199.5" r="1.72"/>
<circle class="p0" cx="406.3" cy="199.5" r="1.72"/>
<circle class="p0" cx="410.0" cy="199.5" r="1.72"/>
<circle class="p0" cx="411.0" cy="199.5" r="1.72"/>
<circle class="p0" cx="412.0" cy="199.5" r="1.72"/>
<circle class="p0" cx="413.0" cy="199.5" r="1.72"/>
<circle class="p0" cx="414.0" cy="199.5" r="1.72"/>
<circle class="p0" cx="415.0" cy="199.5" r="1.72"/>
<circle class="p0" cx="415.7" cy="199.5" r="1.72"/>
<circle class="p0" cx="410.5" cy="199.5" r="1.72"/>
<circle class="p0" cx="411.5" cy="199.5" r="1.72"/>
<circle class="p0" cx="412.5" cy="199.5" r="1.72"/>
<circle class="p0" cx="413.5" cy="199.5" r="1.72"/>
<circle class="p0" cx="414.5" cy="199.5" r="1.72"/>
<circle class="p1" cx="427.5" cy="57.1" r="1.72"/>
<circle class="p1" cx="427.9" cy="57.1" r="1.72"/>
<circle class="p1" cx="434.4" cy="57.1" r="1.72"/>
<circle class="p1" cx="435.3" cy="57.1" r="1.72"/>
<circle class="p1" cx="433.1" cy="74.9" r="1.72"/>
<circle class="p1" cx="430.3" cy="92.7" r="1.72"/>
<circle class="p1" cx="433.3" cy="92.7" r="1.72"/>
<circle class="p1" cx="425.7" cy="128.3" r="1.72"/>
<circle class="p1" cx="427.4" cy="128.3" r="1.72"/>
<circle class="p1" cx="425.9" cy="146.1" r="1.72"/>
<circle class="p1" cx="427.4" cy="146.1" r="1.72"/>
<circle class="p1" cx="429.6" cy="146.1" r="1.72"/>
<circle class="p1" cx="433.3" cy="146.1" r="1.72"/>
<circle class="p1" cx="427.4" cy="163.9" r="1.72"/>
<circle class="p1" cx="430.7" cy="163.9" r="1.72"/>
<circle class="p1" cx="432.2" cy="163.9" r="1.72"/>
<circle class="p1" cx="433.3" cy="163.9" r="1.72"/>
<circle class="p1" cx="428.5" cy="181.7" r="1.72"/>
<circle class="p1" cx="431.8" cy="181.7" r="1.72"/>
<circle class="p1" cx="434.4" cy="181.7" r="1.72"/>
<circle class="p1" cx="424.6" cy="199.5" r="1.72"/>
<circle class="p1" cx="425.0" cy="199.5" r="1.72"/>
<circle class="p1" cx="425.9" cy="199.5" r="1.72"/>
<circle class="p1" cx="426.4" cy="199.5" r="1.72"/>
<circle class="p1" cx="426.9" cy="199.5" r="1.72"/>
<circle class="p1" cx="427.4" cy="199.5" r="1.72"/>
<circle class="p1" cx="427.9" cy="199.5" r="1.72"/>
<circle class="p1" cx="428.5" cy="199.5" r="1.72"/>
<circle class="p1" cx="429.2" cy="199.5" r="1.72"/>
<circle class="p1" cx="429.6" cy="199.5" r="1.72"/>
<circle class="p1" cx="430.3" cy="199.5" r="1.72"/>
<circle class="p1" cx="430.8" cy="199.5" r="1.72"/>
<circle class="p1" cx="431.6" cy="199.5" r="1.72"/>
<circle class="p1" cx="432.2" cy="199.5" r="1.72"/>
<circle class="p1" cx="432.6" cy="199.5" r="1.72"/>
<circle class="p1" cx="433.1" cy="199.5" r="1.72"/>
<circle class="p1" cx="433.9" cy="199.5" r="1.72"/>
<circle class="p1" cx="434.2" cy="199.5" r="1.72"/>
<circle class="p0" cx="463.8" cy="21.5" r="1.72"/>
<circle class="p0" cx="456.2" cy="39.3" r="1.72"/>
<circle class="p0" cx="457.9" cy="57.1" r="1.72"/>
<circle class="p0" cx="460.8" cy="57.1" r="1.72"/>
<circle class="p0" cx="461.2" cy="57.1" r="1.72"/>
<circle class="p0" cx="466.7" cy="57.1" r="1.72"/>
<circle class="p0" cx="457.0" cy="74.9" r="1.72"/>
<circle class="p0" cx="458.8" cy="74.9" r="1.72"/>
<circle class="p0" cx="460.1" cy="74.9" r="1.72"/>
<circle class="p0" cx="456.8" cy="92.7" r="1.72"/>
<circle class="p0" cx="457.5" cy="110.5" r="1.72"/>
<circle class="p0" cx="461.9" cy="110.5" r="1.72"/>
<circle class="p0" cx="464.0" cy="110.5" r="1.72"/>
<circle class="p0" cx="466.7" cy="110.5" r="1.72"/>
<circle class="p0" cx="462.1" cy="128.3" r="1.72"/>
<circle class="p0" cx="462.5" cy="128.3" r="1.72"/>
<circle class="p0" cx="456.4" cy="146.1" r="1.72"/>
<circle class="p0" cx="458.6" cy="146.1" r="1.72"/>
<circle class="p0" cx="464.3" cy="146.1" r="1.72"/>
<circle class="p0" cx="465.6" cy="163.9" r="1.72"/>
<circle class="p0" cx="466.0" cy="163.9" r="1.72"/>
<circle class="p0" cx="456.4" cy="181.7" r="1.72"/>
<circle class="p0" cx="462.7" cy="181.7" r="1.72"/>
<circle class="p0" cx="456.7" cy="199.5" r="1.72"/>
<circle class="p0" cx="457.2" cy="199.5" r="1.72"/>
<circle class="p0" cx="458.0" cy="199.5" r="1.72"/>
<circle class="p0" cx="458.8" cy="199.5" r="1.72"/>
<circle class="p0" cx="459.5" cy="199.5" r="1.72"/>
<circle class="p0" cx="460.0" cy="199.5" r="1.72"/>
<circle class="p0" cx="460.9" cy="199.5" r="1.72"/>
<circle class="p0" cx="461.3" cy="199.5" r="1.72"/>
<circle class="p0" cx="462.1" cy="199.5" r="1.72"/>
<circle class="p0" cx="462.8" cy="199.5" r="1.72"/>
<circle class="p0" cx="463.6" cy="199.5" r="1.72"/>
<circle class="p0" cx="464.1" cy="199.5" r="1.72"/>
<circle class="p0" cx="464.8" cy="199.5" r="1.72"/>
<circle class="p0" cx="465.6" cy="199.5" r="1.72"/>
<circle class="p0" cx="466.3" cy="199.5" r="1.72"/>
<circle class="p0" cx="467.1" cy="199.5" r="1.72"/>
<circle class="p1" cx="475.6" cy="21.5" r="1.72"/>
<circle class="p1" cx="477.4" cy="57.1" r="1.72"/>
<circle class="p1" cx="477.8" cy="57.1" r="1.72"/>
<circle class="p1" cx="481.1" cy="57.1" r="1.72"/>
<circle class="p1" cx="485.9" cy="57.1" r="1.72"/>
<circle class="p1" cx="477.8" cy="74.9" r="1.72"/>
<circle class="p1" cx="478.2" cy="74.9" r="1.72"/>
<circle class="p1" cx="478.7" cy="92.7" r="1.72"/>
<circle class="p1" cx="475.4" cy="110.5" r="1.72"/>
<circle class="p1" cx="478.9" cy="110.5" r="1.72"/>
<circle class="p1" cx="481.1" cy="110.5" r="1.72"/>
<circle class="p1" cx="475.6" cy="128.3" r="1.72"/>
<circle class="p1" cx="484.4" cy="128.3" r="1.72"/>
<circle class="p1" cx="479.3" cy="146.1" r="1.72"/>
<circle class="p1" cx="483.1" cy="146.1" r="1.72"/>
<circle class="p1" cx="484.2" cy="146.1" r="1.72"/>
<circle class="p1" cx="476.1" cy="163.9" r="1.72"/>
<circle class="p1" cx="478.9" cy="163.9" r="1.72"/>
<circle class="p1" cx="480.4" cy="163.9" r="1.72"/>
<circle class="p1" cx="482.6" cy="163.9" r="1.72"/>
<circle class="p1" cx="484.4" cy="163.9" r="1.72"/>
<circle class="p1" cx="485.9" cy="163.9" r="1.72"/>
<circle class="p1" cx="478.3" cy="181.7" r="1.72"/>
<circle class="p1" cx="478.7" cy="181.7" r="1.72"/>
<circle class="p1" cx="475.4" cy="199.5" r="1.72"/>
<circle class="p1" cx="476.3" cy="199.5" r="1.72"/>
<circle class="p1" cx="477.1" cy="199.5" r="1.72"/>
<circle class="p1" cx="478.0" cy="199.5" r="1.72"/>
<circle class="p1" cx="478.9" cy="199.5" r="1.72"/>
<circle class="p1" cx="479.5" cy="199.5" r="1.72"/>
<circle class="p1" cx="480.3" cy="199.5" r="1.72"/>
<circle class="p1" cx="481.4" cy="199.5" r="1.72"/>
<circle class="p1" cx="481.8" cy="199.5" r="1.72"/>
<circle class="p1" cx="482.9" cy="199.5" r="1.72"/>
<circle class="p1" cx="483.7" cy="199.5" r="1.72"/>
<circle class="p1" cx="484.2" cy="199.5" r="1.72"/>
<circle class="p1" cx="485.4" cy="199.5" r="1.72"/>
<circle class="p1" cx="486.1" cy="199.5" r="1.72"/>
<circle class="p0" cx="515.8" cy="21.5" r="1.72"/>
<circle class="p0" cx="517.2" cy="57.1" r="1.72"/>
<circle class="p0" cx="517.6" cy="57.1" r="1.72"/>
<circle class="p0" cx="512.6" cy="92.7" r="1.72"/>
<circle class="p0" cx="515.6" cy="128.3" r="1.72"/>
<circle class="p0" cx="516.0" cy="128.3" r="1.72"/>
<circle class="p0" cx="506.7" cy="146.1" r="1.72"/>
<circle class="p0" cx="509.5" cy="146.1" r="1.72"/>
<circle class="p0" cx="512.6" cy="146.1" r="1.72"/>
<circle class="p0" cx="514.3" cy="146.1" r="1.72"/>
<circle class="p0" cx="513.7" cy="163.9" r="1.72"/>
<circle class="p0" cx="518.0" cy="163.9" r="1.72"/>
<circle class="p0" cx="508.0" cy="181.7" r="1.72"/>
<circle class="p0" cx="515.0" cy="181.7" r="1.72"/>
<circle class="p0" cx="517.2" cy="181.7" r="1.72"/>
<circle class="p0" cx="507.5" cy="199.5" r="1.72"/>
<circle class="p0" cx="508.0" cy="199.5" r="1.72"/>
<circle class="p0" cx="508.5" cy="199.5" r="1.72"/>
<circle class="p0" cx="508.8" cy="199.5" r="1.72"/>
<circle class="p0" cx="509.4" cy="199.5" r="1.72"/>
<circle class="p0" cx="509.8" cy="199.5" r="1.72"/>
<circle class="p0" cx="510.4" cy="199.5" r="1.72"/>
<circle class="p0" cx="510.8" cy="199.5" r="1.72"/>
<circle class="p0" cx="511.3" cy="199.5" r="1.72"/>
<circle class="p0" cx="511.7" cy="199.5" r="1.72"/>
<circle class="p0" cx="512.3" cy="199.5" r="1.72"/>
<circle class="p0" cx="512.7" cy="199.5" r="1.72"/>
<circle class="p0" cx="513.1" cy="199.5" r="1.72"/>
<circle class="p0" cx="513.5" cy="199.5" r="1.72"/>
<circle class="p0" cx="513.9" cy="199.5" r="1.72"/>
<circle class="p0" cx="514.4" cy="199.5" r="1.72"/>
<circle class="p0" cx="514.9" cy="199.5" r="1.72"/>
<circle class="p0" cx="515.3" cy="199.5" r="1.72"/>
<circle class="p0" cx="516.0" cy="199.5" r="1.72"/>
<circle class="p0" cx="516.4" cy="199.5" r="1.72"/>
<circle class="p0" cx="516.8" cy="199.5" r="1.72"/>
<circle class="p0" cx="517.3" cy="199.5" r="1.72"/>
<circle class="p0" cx="517.8" cy="199.5" r="1.72"/>
<circle class="p0" cx="518.2" cy="199.5" r="1.72"/>
<circle class="p1" cx="536.4" cy="57.1" r="1.72"/>
<circle class="p1" cx="536.8" cy="57.1" r="1.72"/>
<circle class="p1" cx="527.2" cy="74.9" r="1.72"/>
<circle class="p1" cx="534.2" cy="74.9" r="1.72"/>
<circle class="p1" cx="528.7" cy="92.7" r="1.72"/>
<circle class="p1" cx="532.5" cy="92.7" r="1.72"/>
<circle class="p1" cx="532.9" cy="92.7" r="1.72"/>
<circle class="p1" cx="527.2" cy="110.5" r="1.72"/>
<circle class="p1" cx="531.2" cy="110.5" r="1.72"/>
<circle class="p1" cx="535.4" cy="110.5" r="1.72"/>
<circle class="p1" cx="525.9" cy="128.3" r="1.72"/>
<circle class="p1" cx="527.3" cy="128.3" r="1.72"/>
<circle class="p1" cx="530.9" cy="146.1" r="1.72"/>
<circle class="p1" cx="532.7" cy="146.1" r="1.72"/>
<circle class="p1" cx="534.4" cy="146.1" r="1.72"/>
<circle class="p1" cx="536.2" cy="146.1" r="1.72"/>
<circle class="p1" cx="537.7" cy="146.1" r="1.72"/>
<circle class="p1" cx="528.6" cy="163.9" r="1.72"/>
<circle class="p1" cx="532.5" cy="163.9" r="1.72"/>
<circle class="p1" cx="534.6" cy="163.9" r="1.72"/>
<circle class="p1" cx="526.8" cy="181.7" r="1.72"/>
<circle class="p1" cx="528.3" cy="181.7" r="1.72"/>
<circle class="p1" cx="529.8" cy="181.7" r="1.72"/>
<circle class="p1" cx="531.3" cy="181.7" r="1.72"/>
<circle class="p1" cx="532.8" cy="181.7" r="1.72"/>
<circle class="p1" cx="534.3" cy="181.7" r="1.72"/>
<circle class="p1" cx="536.2" cy="181.7" r="1.72"/>
<circle class="p1" cx="526.6" cy="199.5" r="1.72"/>
<circle class="p1" cx="527.3" cy="199.5" r="1.72"/>
<circle class="p1" cx="528.0" cy="199.5" r="1.72"/>
<circle class="p1" cx="531.5" cy="199.5" r="1.72"/>
<circle class="p1" cx="532.3" cy="199.5" r="1.72"/>
<circle class="p1" cx="533.0" cy="199.5" r="1.72"/>
<circle class="p1" cx="533.7" cy="199.5" r="1.72"/>
<circle class="p1" cx="534.4" cy="199.5" r="1.72"/>
<circle class="p1" cx="535.2" cy="199.5" r="1.72"/>
<circle class="p1" cx="536.0" cy="199.5" r="1.72"/>
<circle class="p1" cx="536.3" cy="199.5" r="1.72"/>
<circle class="p0" cx="561.3" cy="110.5" r="1.72"/>
<circle class="p0" cx="558.0" cy="128.3" r="1.72"/>
<circle class="p0" cx="558.0" cy="146.1" r="1.72"/>
<circle class="p0" cx="563.1" cy="146.1" r="1.72"/>
<circle class="p0" cx="568.1" cy="163.9" r="1.72"/>
<circle class="p0" cx="559.6" cy="181.7" r="1.72"/>
<circle class="p0" cx="559.4" cy="199.5" r="1.72"/>
<circle class="p0" cx="559.7" cy="199.5" r="1.72"/>
<circle class="p0" cx="560.0" cy="199.5" r="1.72"/>
<circle class="p0" cx="560.2" cy="199.5" r="1.72"/>
<circle class="p0" cx="560.5" cy="199.5" r="1.72"/>
<circle class="p0" cx="560.8" cy="199.5" r="1.72"/>
<circle class="p0" cx="560.9" cy="199.5" r="1.72"/>
<circle class="p0" cx="561.3" cy="199.5" r="1.72"/>
<circle class="p0" cx="561.5" cy="199.5" r="1.72"/>
<circle class="p0" cx="561.7" cy="199.5" r="1.72"/>
<circle class="p0" cx="562.0" cy="199.5" r="1.72"/>
<circle class="p0" cx="562.4" cy="199.5" r="1.72"/>
<circle class="p0" cx="562.6" cy="199.5" r="1.72"/>
<circle class="p0" cx="562.9" cy="199.5" r="1.72"/>
<circle class="p0" cx="563.2" cy="199.5" r="1.72"/>
<circle class="p0" cx="563.4" cy="199.5" r="1.72"/>
<circle class="p0" cx="563.7" cy="199.5" r="1.72"/>
<circle class="p0" cx="564.0" cy="199.5" r="1.72"/>
<circle class="p0" cx="564.3" cy="199.5" r="1.72"/>
<circle class="p0" cx="564.5" cy="199.5" r="1.72"/>
<circle class="p0" cx="564.8" cy="199.5" r="1.72"/>
<circle class="p0" cx="565.1" cy="199.5" r="1.72"/>
<circle class="p0" cx="565.2" cy="199.5" r="1.72"/>
<circle class="p0" cx="565.5" cy="199.5" r="1.72"/>
<circle class="p0" cx="565.8" cy="199.5" r="1.72"/>
<circle class="p0" cx="566.2" cy="199.5" r="1.72"/>
<circle class="p0" cx="566.4" cy="199.5" r="1.72"/>
<circle class="p0" cx="566.7" cy="199.5" r="1.72"/>
<circle class="p0" cx="566.8" cy="199.5" r="1.72"/>
<circle class="p0" cx="567.1" cy="199.5" r="1.72"/>
<circle class="p0" cx="567.4" cy="199.5" r="1.72"/>
<circle class="p0" cx="567.8" cy="199.5" r="1.72"/>
<circle class="p0" cx="568.0" cy="199.5" r="1.72"/>
<circle class="p0" cx="568.3" cy="199.5" r="1.72"/>
<circle class="p0" cx="568.5" cy="199.5" r="1.72"/>
<circle class="p0" cx="568.8" cy="199.5" r="1.72"/>
<circle class="p1" cx="581.0" cy="74.9" r="1.72"/>
<circle class="p1" cx="585.1" cy="74.9" r="1.72"/>
<circle class="p1" cx="582.5" cy="163.9" r="1.72"/>
<circle class="p1" cx="579.7" cy="181.7" r="1.72"/>
<circle class="p1" cx="577.0" cy="199.5" r="1.72"/>
<circle class="p1" cx="577.3" cy="199.5" r="1.72"/>
<circle class="p1" cx="577.5" cy="199.5" r="1.72"/>
<circle class="p1" cx="577.9" cy="199.5" r="1.72"/>
<circle class="p1" cx="578.0" cy="199.5" r="1.72"/>
<circle class="p1" cx="578.4" cy="199.5" r="1.72"/>
<circle class="p1" cx="578.7" cy="199.5" r="1.72"/>
<circle class="p1" cx="578.8" cy="199.5" r="1.72"/>
<circle class="p1" cx="579.2" cy="199.5" r="1.72"/>
<circle class="p1" cx="579.5" cy="199.5" r="1.72"/>
<circle class="p1" cx="579.8" cy="199.5" r="1.72"/>
<circle class="p1" cx="580.0" cy="199.5" r="1.72"/>
<circle class="p1" cx="580.2" cy="199.5" r="1.72"/>
<circle class="p1" cx="580.5" cy="199.5" r="1.72"/>
<circle class="p1" cx="580.9" cy="199.5" r="1.72"/>
<circle class="p1" cx="581.0" cy="199.5" r="1.72"/>
<circle class="p1" cx="581.4" cy="199.5" r="1.72"/>
<circle class="p1" cx="581.6" cy="199.5" r="1.72"/>
<circle class="p1" cx="581.9" cy="199.5" r="1.72"/>
<circle class="p1" cx="582.2" cy="199.5" r="1.72"/>
<circle class="p1" cx="582.4" cy="199.5" r="1.72"/>
<circle class="p1" cx="582.8" cy="199.5" r="1.72"/>
<circle class="p1" cx="583.0" cy="199.5" r="1.72"/>
<circle class="p1" cx="583.3" cy="199.5" r="1.72"/>
<circle class="p1" cx="583.6" cy="199.5" r="1.72"/>
<circle class="p1" cx="583.8" cy="199.5" r="1.72"/>
<circle class="p1" cx="584.1" cy="199.5" r="1.72"/>
<circle class="p1" cx="584.3" cy="199.5" r="1.72"/>
<circle class="p1" cx="584.5" cy="199.5" r="1.72"/>
<circle class="p1" cx="584.8" cy="199.5" r="1.72"/>
<circle class="p1" cx="585.2" cy="199.5" r="1.72"/>
<circle class="p1" cx="585.4" cy="199.5" r="1.72"/>
<circle class="p1" cx="585.7" cy="199.5" r="1.72"/>
<circle class="p1" cx="585.9" cy="199.5" r="1.72"/>
<circle class="p1" cx="586.2" cy="199.5" r="1.72"/>
<circle class="p1" cx="586.5" cy="199.5" r="1.72"/>
<circle class="p1" cx="586.8" cy="199.5" r="1.72"/>
<circle class="p1" cx="587.0" cy="199.5" r="1.72"/>
<circle class="p1" cx="587.4" cy="199.5" r="1.72"/>
<circle class="p1" cx="587.6" cy="199.5" r="1.72"/>
<path class="ax" d="M33.8 12.60V208.40H603.1"/>
<path class="ax" d="M31.10 199.50H33.8"/>
<text class="tk" style="font-size:8.2px" x="29" y="202.90" text-anchor="end">0.0</text>
<path class="ax" d="M31.10 155.00H33.8"/>
<text class="tk" style="font-size:8.2px" x="29" y="158.40" text-anchor="end">2.5</text>
<path class="ax" d="M31.10 110.50H33.8"/>
<text class="tk" style="font-size:8.2px" x="29" y="113.90" text-anchor="end">5.0</text>
<path class="ax" d="M31.10 66.00H33.8"/>
<text class="tk" style="font-size:8.2px" x="29" y="69.40" text-anchor="end">7.5</text>
<path class="ax" d="M31.10 21.50H33.8"/>
<text class="tk" style="font-size:8.2px" x="29" y="24.90" text-anchor="end">10.0</text>
<path class="ax" d="M64.50 208.40v2.1"/>
<text class="tk" x="64.50" y="220.20" text-anchor="middle">Throb.</text>
<path class="ax" d="M115.50 208.40v2.1"/>
<text class="tk" x="115.50" y="220.20" text-anchor="middle">Shoot.</text>
<path class="ax" d="M166.40 208.40v2.1"/>
<text class="tk" x="166.40" y="220.20" text-anchor="middle">Stab.</text>
<path class="ax" d="M217.40 208.40v2.1"/>
<text class="tk" x="217.40" y="220.20" text-anchor="middle">Sharp.</text>
<path class="ax" d="M267.30 208.40v2.1"/>
<text class="tk" x="267.30" y="220.20" text-anchor="middle">Cramp.</text>
<path class="ax" d="M318.40 208.40v2.1"/>
<text class="tk" x="318.40" y="220.20" text-anchor="middle">Gnaw.</text>
<path class="ax" d="M369.20 208.40v2.1"/>
<text class="tk" x="369.20" y="220.20" text-anchor="middle">Hot_Burn.</text>
<path class="ax" d="M420.30 208.40v2.1"/>
<text class="tk" x="420.30" y="220.20" text-anchor="middle">Aching.</text>
<path class="ax" d="M471.20 208.40v2.1"/>
<text class="tk" x="471.20" y="220.20" text-anchor="middle">Heavy.</text>
<path class="ax" d="M522.20 208.40v2.1"/>
<text class="tk" x="522.20" y="220.20" text-anchor="middle">Tender.</text>
<path class="ax" d="M572.40 208.40v2.1"/>
<text class="tk" x="572.40" y="220.20" text-anchor="middle">Split.</text>
<text class="ti" x="318.4" y="231.70" text-anchor="middle">description</text>
<text class="ti" style="stroke-width:.2" transform="translate(8.8 110.00) rotate(-90)" text-anchor="middle">intensity</text>
<path d="M52.6 7.4H68.0" stroke="#333" stroke-width=".85"/>
<text x="54.05 58.45 62.85" y="7.25" style="font-size:8.5px;fill:#000;stroke:#000;stroke-width:.15">***</text>
<path d="M206.2 7.4H221.1" stroke="#333" stroke-width=".85"/>
<text x="207.75 212.15 216.55" y="7.25" style="font-size:8.5px;fill:#000;stroke:#000;stroke-width:.15">***</text>
<path d="M410.2 7.4H425.0" stroke="#333" stroke-width=".85"/>
<text x="414.15 418.55" y="7.25" style="font-size:8.5px;fill:#000;stroke:#000;stroke-width:.15">**</text>
<path d="M515.0 7.4H529.8" stroke="#333" stroke-width=".85"/>
<text x="520.75" y="7.25" style="font-size:8.5px;fill:#000;stroke:#000;stroke-width:.15">*</text>
<text class="ti" x="618.5" y="95.60">period</text>
<path class="bx" d="M627.5 103.15V116.15"/>
<rect x="621.3" y="105.45" width="12.5" height="8.4" fill="#fff" stroke="#2a2a2a" stroke-width=".8"/>
<path class="bx" d="M621.3 109.65H633.8"/>
<circle class="p0" cx="627.5" cy="109.65" r="1.72"/>
<text class="lg" x="640.4" y="112.95">pre</text>
<path class="bx" d="M627.5 119.80V132.80"/>
<rect x="621.3" y="122.10" width="12.5" height="8.4" fill="#fff" stroke="#2a2a2a" stroke-width=".8"/>
<path class="bx" d="M621.3 126.30H633.8"/>
<circle class="p1" cx="627.5" cy="126.30" r="1.72"/>
<text class="lg" x="640.4" y="129.60">post</text>
</g>
<g>
<path class="bx" d="M54.50 270.50V341.70"/>
<rect class="bx" x="46.30" y="341.70" width="17.10" height="106.80"/>
<path class="md" d="M46.30 439.60H63.40"/>
<path class="bx" d="M74.30 359.50V412.90"/>
<rect class="bx" x="65.50" y="412.90" width="17.10" height="35.60"/>
<path class="md" d="M65.50 448.50H82.60"/>
<path class="md" d="M97.50 448.50H114.50"/>
<path class="md" d="M116.40 448.50H133.40"/>
<path class="md" d="M147.70 448.50H164.80"/>
<path class="md" d="M167.00 448.50H184.20"/>
<path class="md" d="M199.10 448.50H216.20"/>
<path class="md" d="M217.80 448.50H235.20"/>
<path class="bx" d="M258.15 359.50V408.45"/>
<rect class="bx" x="249.50" y="408.45" width="17.10" height="40.05"/>
<path class="md" d="M249.50 448.50H266.60"/>
<path class="bx" d="M277.50 412.90V430.70"/>
<rect class="bx" x="269.20" y="430.70" width="17.20" height="17.80"/>
<path class="md" d="M269.20 448.50H286.40"/>
<path class="md" d="M300.60 448.50H317.40"/>
<path class="md" d="M319.30 448.50H336.60"/>
<path class="md" d="M351.20 448.50H368.00"/>
<path class="md" d="M370.20 448.50H387.40"/>
<path class="md" d="M402.50 448.50H419.60"/>
<path class="bx" d="M429.40 412.90V430.70"/>
<rect class="bx" x="421.50" y="430.70" width="16.60" height="17.80"/>
<path class="md" d="M421.50 448.50H438.10"/>
<path class="md" d="M453.10 448.50H470.40"/>
<path class="bx" d="M480.70 412.90V430.70"/>
<rect class="bx" x="472.40" y="430.70" width="17.20" height="17.80"/>
<path class="md" d="M472.40 448.50H489.60"/>
<rect class="bx" x="504.20" y="430.70" width="17.10" height="17.80"/>
<path class="md" d="M504.20 448.50H521.30"/>
<path class="bx" d="M531.40 359.50V412.90"/>
<rect class="bx" x="523.00" y="412.90" width="17.50" height="35.60"/>
<path class="md" d="M523.00 448.50H540.50"/>
<path class="bx" d="M563.20 359.50V412.90"/>
<rect class="bx" x="554.10" y="412.90" width="17.50" height="35.60"/>
<path class="md" d="M554.10 448.50H571.60"/>
<path class="md" d="M573.80 448.50H590.90"/>
<circle class="p0" cx="51.9" cy="270.5" r="1.72"/>
<circle class="p0" cx="53.4" cy="270.5" r="1.72"/>
<circle class="p0" cx="49.7" cy="288.3" r="1.72"/>
<circle class="p0" cx="58.2" cy="288.3" r="1.72"/>
<circle class="p0" cx="51.2" cy="306.1" r="1.72"/>
<circle class="p0" cx="52.5" cy="306.1" r="1.72"/>
<circle class="p0" cx="56.7" cy="306.1" r="1.72"/>
<circle class="p0" cx="58.4" cy="306.1" r="1.72"/>
<circle class="p0" cx="50.8" cy="323.9" r="1.72"/>
<circle class="p0" cx="55.8" cy="323.9" r="1.72"/>
<circle class="p0" cx="59.1" cy="323.9" r="1.72"/>
<circle class="p0" cx="60.6" cy="323.9" r="1.72"/>
<circle class="p0" cx="52.5" cy="341.7" r="1.72"/>
<circle class="p0" cx="54.9" cy="341.7" r="1.72"/>
<circle class="p0" cx="49.7" cy="359.5" r="1.72"/>
<circle class="p0" cx="51.5" cy="359.5" r="1.72"/>
<circle class="p0" cx="54.7" cy="359.5" r="1.72"/>
<circle class="p0" cx="60.2" cy="359.5" r="1.72"/>
<circle class="p0" cx="53.0" cy="395.1" r="1.72"/>
<circle class="p0" cx="50.1" cy="412.9" r="1.72"/>
<circle class="p0" cx="51.6" cy="412.9" r="1.72"/>
<circle class="p0" cx="55.8" cy="430.7" r="1.72"/>
<circle class="p0" cx="57.3" cy="430.7" r="1.72"/>
<circle class="p0" cx="58.9" cy="430.7" r="1.72"/>
<circle class="p0" cx="49.7" cy="448.5" r="1.72"/>
<circle class="p0" cx="50.3" cy="448.5" r="1.72"/>
<circle class="p0" cx="50.7" cy="448.5" r="1.72"/>
<circle class="p0" cx="51.2" cy="448.5" r="1.72"/>
<circle class="p0" cx="51.5" cy="448.5" r="1.72"/>
<circle class="p0" cx="52.0" cy="448.5" r="1.72"/>
<circle class="p0" cx="52.5" cy="448.5" r="1.72"/>
<circle class="p0" cx="53.1" cy="448.5" r="1.72"/>
<circle class="p0" cx="53.5" cy="448.5" r="1.72"/>
<circle class="p0" cx="53.9" cy="448.5" r="1.72"/>
<circle class="p0" cx="54.4" cy="448.5" r="1.72"/>
<circle class="p0" cx="54.8" cy="448.5" r="1.72"/>
<circle class="p0" cx="55.2" cy="448.5" r="1.72"/>
<circle class="p0" cx="55.7" cy="448.5" r="1.72"/>
<circle class="p0" cx="56.4" cy="448.5" r="1.72"/>
<circle class="p0" cx="56.7" cy="448.5" r="1.72"/>
<circle class="p0" cx="57.3" cy="448.5" r="1.72"/>
<circle class="p0" cx="57.6" cy="448.5" r="1.72"/>
<circle class="p0" cx="58.1" cy="448.5" r="1.72"/>
<circle class="p0" cx="58.6" cy="448.5" r="1.72"/>
<circle class="p0" cx="59.0" cy="448.5" r="1.72"/>
<circle class="p0" cx="59.5" cy="448.5" r="1.72"/>
<circle class="p0" cx="60.2" cy="448.5" r="1.72"/>
<circle class="p0" cx="60.5" cy="448.5" r="1.72"/>
<circle class="p1" cx="75.0" cy="306.1" r="1.72"/>
<circle class="p1" cx="71.7" cy="323.9" r="1.72"/>
<circle class="p1" cx="76.8" cy="341.7" r="1.72"/>
<circle class="p1" cx="71.5" cy="359.5" r="1.72"/>
<circle class="p1" cx="73.1" cy="359.5" r="1.72"/>
<circle class="p1" cx="76.6" cy="359.5" r="1.72"/>
<circle class="p1" cx="78.1" cy="359.5" r="1.72"/>
<circle class="p1" cx="71.5" cy="395.1" r="1.72"/>
<circle class="p1" cx="73.1" cy="395.1" r="1.72"/>
<circle class="p1" cx="76.6" cy="395.1" r="1.72"/>
<circle class="p1" cx="78.1" cy="395.1" r="1.72"/>
<circle class="p1" cx="77.4" cy="395.1" r="1.72"/>
<circle class="p1" cx="68.9" cy="412.9" r="1.72"/>
<circle class="p1" cx="70.0" cy="412.9" r="1.72"/>
<circle class="p1" cx="78.5" cy="412.9" r="1.72"/>
<circle class="p1" cx="80.1" cy="412.9" r="1.72"/>
<circle class="p1" cx="73.1" cy="430.7" r="1.72"/>
<circle class="p1" cx="68.8" cy="448.5" r="1.72"/>
<circle class="p1" cx="69.1" cy="448.5" r="1.72"/>
<circle class="p1" cx="69.5" cy="448.5" r="1.72"/>
<circle class="p1" cx="69.9" cy="448.5" r="1.72"/>
<circle class="p1" cx="70.2" cy="448.5" r="1.72"/>
<circle class="p1" cx="70.6" cy="448.5" r="1.72"/>
<circle class="p1" cx="70.8" cy="448.5" r="1.72"/>
<circle class="p1" cx="71.4" cy="448.5" r="1.72"/>
<circle class="p1" cx="71.7" cy="448.5" r="1.72"/>
<circle class="p1" cx="72.1" cy="448.5" r="1.72"/>
<circle class="p1" cx="72.5" cy="448.5" r="1.72"/>
<circle class="p1" cx="72.7" cy="448.5" r="1.72"/>
<circle class="p1" cx="73.1" cy="448.5" r="1.72"/>
<circle class="p1" cx="73.6" cy="448.5" r="1.72"/>
<circle class="p1" cx="73.8" cy="448.5" r="1.72"/>
<circle class="p1" cx="74.3" cy="448.5" r="1.72"/>
<circle class="p1" cx="74.6" cy="448.5" r="1.72"/>
<circle class="p1" cx="75.0" cy="448.5" r="1.72"/>
<circle class="p1" cx="75.5" cy="448.5" r="1.72"/>
<circle class="p1" cx="75.9" cy="448.5" r="1.72"/>
<circle class="p1" cx="76.1" cy="448.5" r="1.72"/>
<circle class="p1" cx="76.6" cy="448.5" r="1.72"/>
<circle class="p1" cx="76.8" cy="448.5" r="1.72"/>
<circle class="p1" cx="77.3" cy="448.5" r="1.72"/>
<circle class="p1" cx="77.6" cy="448.5" r="1.72"/>
<circle class="p1" cx="77.9" cy="448.5" r="1.72"/>
<circle class="p1" cx="78.3" cy="448.5" r="1.72"/>
<circle class="p1" cx="78.7" cy="448.5" r="1.72"/>
<circle class="p1" cx="79.2" cy="448.5" r="1.72"/>
<circle class="p1" cx="79.5" cy="448.5" r="1.72"/>
<circle class="p0" cx="104.1" cy="323.9" r="1.72"/>
<circle class="p0" cx="99.9" cy="341.7" r="1.72"/>
<circle class="p0" cx="103.0" cy="359.5" r="1.72"/>
<circle class="p0" cx="102.6" cy="377.3" r="1.72"/>
<circle class="p0" cx="104.8" cy="395.1" r="1.72"/>
<circle class="p0" cx="106.5" cy="412.9" r="1.72"/>
<circle class="p0" cx="108.7" cy="412.9" r="1.72"/>
<circle class="p0" cx="108.0" cy="430.7" r="1.72"/>
<circle class="p0" cx="109.6" cy="430.7" r="1.72"/>
<circle class="p0" cx="100.5" cy="448.5" r="1.72"/>
<circle class="p0" cx="100.9" cy="448.5" r="1.72"/>
<circle class="p0" cx="101.2" cy="448.5" r="1.72"/>
<circle class="p0" cx="101.4" cy="448.5" r="1.72"/>
<circle class="p0" cx="101.6" cy="448.5" r="1.72"/>
<circle class="p0" cx="101.9" cy="448.5" r="1.72"/>
<circle class="p0" cx="102.2" cy="448.5" r="1.72"/>
<circle class="p0" cx="102.5" cy="448.5" r="1.72"/>
<circle class="p0" cx="102.7" cy="448.5" r="1.72"/>
<circle class="p0" cx="103.1" cy="448.5" r="1.72"/>
<circle class="p0" cx="103.3" cy="448.5" r="1.72"/>
<circle class="p0" cx="103.7" cy="448.5" r="1.72"/>
<circle class="p0" cx="104.0" cy="448.5" r="1.72"/>
<circle class="p0" cx="104.3" cy="448.5" r="1.72"/>
<circle class="p0" cx="104.5" cy="448.5" r="1.72"/>
<circle class="p0" cx="104.8" cy="448.5" r="1.72"/>
<circle class="p0" cx="105.1" cy="448.5" r="1.72"/>
<circle class="p0" cx="105.4" cy="448.5" r="1.72"/>
<circle class="p0" cx="105.7" cy="448.5" r="1.72"/>
<circle class="p0" cx="105.9" cy="448.5" r="1.72"/>
<circle class="p0" cx="106.2" cy="448.5" r="1.72"/>
<circle class="p0" cx="106.6" cy="448.5" r="1.72"/>
<circle class="p0" cx="106.8" cy="448.5" r="1.72"/>
<circle class="p0" cx="107.1" cy="448.5" r="1.72"/>
<circle class="p0" cx="107.4" cy="448.5" r="1.72"/>
<circle class="p0" cx="107.8" cy="448.5" r="1.72"/>
<circle class="p0" cx="108.0" cy="448.5" r="1.72"/>
<circle class="p0" cx="108.3" cy="448.5" r="1.72"/>
<circle class="p0" cx="108.5" cy="448.5" r="1.72"/>
<circle class="p0" cx="108.9" cy="448.5" r="1.72"/>
<circle class="p0" cx="109.1" cy="448.5" r="1.72"/>
<circle class="p0" cx="109.5" cy="448.5" r="1.72"/>
<circle class="p0" cx="109.8" cy="448.5" r="1.72"/>
<circle class="p0" cx="110.1" cy="448.5" r="1.72"/>
<circle class="p0" cx="110.2" cy="448.5" r="1.72"/>
<circle class="p0" cx="110.5" cy="448.5" r="1.72"/>
<circle class="p1" cx="129.0" cy="306.1" r="1.72"/>
<circle class="p1" cx="121.1" cy="341.7" r="1.72"/>
<circle class="p1" cx="120.1" cy="395.1" r="1.72"/>
<circle class="p1" cx="124.6" cy="395.1" r="1.72"/>
<circle class="p1" cx="121.1" cy="430.7" r="1.72"/>
<circle class="p1" cx="129.9" cy="430.7" r="1.72"/>
<circle class="p1" cx="119.5" cy="448.5" r="1.72"/>
<circle class="p1" cx="119.9" cy="448.5" r="1.72"/>
<circle class="p1" cx="120.1" cy="448.5" r="1.72"/>
<circle class="p1" cx="120.4" cy="448.5" r="1.72"/>
<circle class="p1" cx="120.6" cy="448.5" r="1.72"/>
<circle class="p1" cx="120.9" cy="448.5" r="1.72"/>
<circle class="p1" cx="121.3" cy="448.5" r="1.72"/>
<circle class="p1" cx="121.5" cy="448.5" r="1.72"/>
<circle class="p1" cx="121.8" cy="448.5" r="1.72"/>
<circle class="p1" cx="122.1" cy="448.5" r="1.72"/>
<circle class="p1" cx="122.3" cy="448.5" r="1.72"/>
<circle class="p1" cx="122.6" cy="448.5" r="1.72"/>
<circle class="p1" cx="122.9" cy="448.5" r="1.72"/>
<circle class="p1" cx="123.2" cy="448.5" r="1.72"/>
<circle class="p1" cx="123.5" cy="448.5" r="1.72"/>
<circle class="p1" cx="123.8" cy="448.5" r="1.72"/>
<circle class="p1" cx="124.1" cy="448.5" r="1.72"/>
<circle class="p1" cx="124.4" cy="448.5" r="1.72"/>
<circle class="p1" cx="124.7" cy="448.5" r="1.72"/>
<circle class="p1" cx="124.9" cy="448.5" r="1.72"/>
<circle class="p1" cx="125.2" cy="448.5" r="1.72"/>
<circle class="p1" cx="125.4" cy="448.5" r="1.72"/>
<circle class="p1" cx="125.8" cy="448.5" r="1.72"/>
<circle class="p1" cx="126.0" cy="448.5" r="1.72"/>
<circle class="p1" cx="126.4" cy="448.5" r="1.72"/>
<circle class="p1" cx="126.6" cy="448.5" r="1.72"/>
<circle class="p1" cx="126.9" cy="448.5" r="1.72"/>
<circle class="p1" cx="127.1" cy="448.5" r="1.72"/>
<circle class="p1" cx="127.4" cy="448.5" r="1.72"/>
<circle class="p1" cx="127.8" cy="448.5" r="1.72"/>
<circle class="p1" cx="128.1" cy="448.5" r="1.72"/>
<circle class="p1" cx="128.3" cy="448.5" r="1.72"/>
<circle class="p1" cx="128.5" cy="448.5" r="1.72"/>
<circle class="p1" cx="128.9" cy="448.5" r="1.72"/>
<circle class="p1" cx="129.2" cy="448.5" r="1.72"/>
<circle class="p1" cx="129.4" cy="448.5" r="1.72"/>
<circle class="p1" cx="129.7" cy="448.5" r="1.72"/>
<circle class="p1" cx="130.0" cy="448.5" r="1.72"/>
<circle class="p1" cx="130.2" cy="448.5" r="1.72"/>
<circle class="p1" cx="130.6" cy="448.5" r="1.72"/>
<circle class="p0" cx="156.4" cy="270.5" r="1.72"/>
<circle class="p0" cx="157.9" cy="270.5" r="1.72"/>
<circle class="p0" cx="161.0" cy="288.3" r="1.72"/>
<circle class="p0" cx="154.6" cy="359.5" r="1.72"/>
<circle class="p0" cx="155.7" cy="412.9" r="1.72"/>
<circle class="p0" cx="151.6" cy="448.5" r="1.72"/>
<circle class="p0" cx="151.9" cy="448.5" r="1.72"/>
<circle class="p0" cx="152.2" cy="448.5" r="1.72"/>
<circle class="p0" cx="152.5" cy="448.5" r="1.72"/>
<circle class="p0" cx="152.7" cy="448.5" r="1.72"/>
<circle class="p0" cx="152.9" cy="448.5" r="1.72"/>
<circle class="p0" cx="153.2" cy="448.5" r="1.72"/>
<circle class="p0" cx="153.5" cy="448.5" r="1.72"/>
<circle class="p0" cx="153.8" cy="448.5" r="1.72"/>
<circle class="p0" cx="154.0" cy="448.5" r="1.72"/>
<circle class="p0" cx="154.2" cy="448.5" r="1.72"/>
<circle class="p0" cx="154.5" cy="448.5" r="1.72"/>
<circle class="p0" cx="154.8" cy="448.5" r="1.72"/>
<circle class="p0" cx="155.1" cy="448.5" r="1.72"/>
<circle class="p0" cx="155.3" cy="448.5" r="1.72"/>
<circle class="p0" cx="155.6" cy="448.5" r="1.72"/>
<circle class="p0" cx="155.9" cy="448.5" r="1.72"/>
<circle class="p0" cx="156.1" cy="448.5" r="1.72"/>
<circle class="p0" cx="156.3" cy="448.5" r="1.72"/>
<circle class="p0" cx="156.6" cy="448.5" r="1.72"/>
<circle class="p0" cx="156.9" cy="448.5" r="1.72"/>
<circle class="p0" cx="157.2" cy="448.5" r="1.72"/>
<circle class="p0" cx="157.4" cy="448.5" r="1.72"/>
<circle class="p0" cx="157.8" cy="448.5" r="1.72"/>
<circle class="p0" cx="158.0" cy="448.5" r="1.72"/>
<circle class="p0" cx="158.3" cy="448.5" r="1.72"/>
<circle class="p0" cx="158.5" cy="448.5" r="1.72"/>
<circle class="p0" cx="158.9" cy="448.5" r="1.72"/>
<circle class="p0" cx="159.0" cy="448.5" r="1.72"/>
<circle class="p0" cx="159.4" cy="448.5" r="1.72"/>
<circle class="p0" cx="159.6" cy="448.5" r="1.72"/>
<circle class="p0" cx="159.8" cy="448.5" r="1.72"/>
<circle class="p0" cx="160.2" cy="448.5" r="1.72"/>
<circle class="p0" cx="160.4" cy="448.5" r="1.72"/>
<circle class="p0" cx="160.7" cy="448.5" r="1.72"/>
<circle class="p0" cx="160.9" cy="448.5" r="1.72"/>
<circle class="p0" cx="161.1" cy="448.5" r="1.72"/>
<circle class="p0" cx="161.4" cy="448.5" r="1.72"/>
<circle class="p0" cx="161.7" cy="448.5" r="1.72"/>
<circle class="p0" cx="162.0" cy="448.5" r="1.72"/>
<circle class="p1" cx="171.0" cy="323.9" r="1.72"/>
<circle class="p1" cx="178.7" cy="377.3" r="1.72"/>
<circle class="p1" cx="180.9" cy="377.3" r="1.72"/>
<circle class="p1" cx="177.4" cy="395.1" r="1.72"/>
<circle class="p1" cx="180.9" cy="395.1" r="1.72"/>
<circle class="p1" cx="178.0" cy="412.9" r="1.72"/>
<circle class="p1" cx="172.3" cy="430.7" r="1.72"/>
<circle class="p1" cx="177.6" cy="430.7" r="1.72"/>
<circle class="p1" cx="179.8" cy="430.7" r="1.72"/>
<circle class="p1" cx="170.7" cy="448.5" r="1.72"/>
<circle class="p1" cx="170.8" cy="448.5" r="1.72"/>
<circle class="p1" cx="171.2" cy="448.5" r="1.72"/>
<circle class="p1" cx="171.5" cy="448.5" r="1.72"/>
<circle class="p1" cx="171.9" cy="448.5" r="1.72"/>
<circle class="p1" cx="172.1" cy="448.5" r="1.72"/>
<circle class="p1" cx="172.4" cy="448.5" r="1.72"/>
<circle class="p1" cx="172.7" cy="448.5" r="1.72"/>
<circle class="p1" cx="173.0" cy="448.5" r="1.72"/>
<circle class="p1" cx="173.4" cy="448.5" r="1.72"/>
<circle class="p1" cx="173.7" cy="448.5" r="1.72"/>
<circle class="p1" cx="174.0" cy="448.5" r="1.72"/>
<circle class="p1" cx="174.4" cy="448.5" r="1.72"/>
<circle class="p1" cx="174.7" cy="448.5" r="1.72"/>
<circle class="p1" cx="174.8" cy="448.5" r="1.72"/>
<circle class="p1" cx="175.1" cy="448.5" r="1.72"/>
<circle class="p1" cx="175.6" cy="448.5" r="1.72"/>
<circle class="p1" cx="175.8" cy="448.5" r="1.72"/>
<circle class="p1" cx="176.0" cy="448.5" r="1.72"/>
<circle class="p1" cx="176.4" cy="448.5" r="1.72"/>
<circle class="p1" cx="176.7" cy="448.5" r="1.72"/>
<circle class="p1" cx="177.0" cy="448.5" r="1.72"/>
<circle class="p1" cx="177.3" cy="448.5" r="1.72"/>
<circle class="p1" cx="177.6" cy="448.5" r="1.72"/>
<circle class="p1" cx="177.8" cy="448.5" r="1.72"/>
<circle class="p1" cx="178.2" cy="448.5" r="1.72"/>
<circle class="p1" cx="178.5" cy="448.5" r="1.72"/>
<circle class="p1" cx="178.9" cy="448.5" r="1.72"/>
<circle class="p1" cx="179.1" cy="448.5" r="1.72"/>
<circle class="p1" cx="179.6" cy="448.5" r="1.72"/>
<circle class="p1" cx="179.7" cy="448.5" r="1.72"/>
<circle class="p1" cx="180.1" cy="448.5" r="1.72"/>
<circle class="p1" cx="180.4" cy="448.5" r="1.72"/>
<circle class="p1" cx="180.7" cy="448.5" r="1.72"/>
<circle class="p1" cx="181.0" cy="448.5" r="1.72"/>
<circle class="p1" cx="181.2" cy="448.5" r="1.72"/>
<circle class="p0" cx="213.2" cy="306.1" r="1.72"/>
<circle class="p0" cx="210.6" cy="377.3" r="1.72"/>
<circle class="p0" cx="212.1" cy="377.3" r="1.72"/>
<circle class="p0" cx="202.2" cy="448.5" r="1.72"/>
<circle class="p0" cx="202.4" cy="448.5" r="1.72"/>
<circle class="p0" cx="202.8" cy="448.5" r="1.72"/>
<circle class="p0" cx="202.9" cy="448.5" r="1.72"/>
<circle class="p0" cx="203.2" cy="448.5" r="1.72"/>
<circle class="p0" cx="203.5" cy="448.5" r="1.72"/>
<circle class="p0" cx="203.6" cy="448.5" r="1.72"/>
<circle class="p0" cx="203.9" cy="448.5" r="1.72"/>
<circle class="p0" cx="204.2" cy="448.5" r="1.72"/>
<circle class="p0" cx="204.5" cy="448.5" r="1.72"/>
<circle class="p0" cx="204.6" cy="448.5" r="1.72"/>
<circle class="p0" cx="204.9" cy="448.5" r="1.72"/>
<circle class="p0" cx="205.1" cy="448.5" r="1.72"/>
<circle class="p0" cx="205.5" cy="448.5" r="1.72"/>
<circle class="p0" cx="205.6" cy="448.5" r="1.72"/>
<circle class="p0" cx="206.0" cy="448.5" r="1.72"/>
<circle class="p0" cx="206.2" cy="448.5" r="1.72"/>
<circle class="p0" cx="206.4" cy="448.5" r="1.72"/>
<circle class="p0" cx="206.6" cy="448.5" r="1.72"/>
<circle class="p0" cx="207.0" cy="448.5" r="1.72"/>
<circle class="p0" cx="207.2" cy="448.5" r="1.72"/>
<circle class="p0" cx="207.4" cy="448.5" r="1.72"/>
<circle class="p0" cx="207.7" cy="448.5" r="1.72"/>
<circle class="p0" cx="207.9" cy="448.5" r="1.72"/>
<circle class="p0" cx="208.1" cy="448.5" r="1.72"/>
<circle class="p0" cx="208.3" cy="448.5" r="1.72"/>
<circle class="p0" cx="208.7" cy="448.5" r="1.72"/>
<circle class="p0" cx="209.0" cy="448.5" r="1.72"/>
<circle class="p0" cx="209.2" cy="448.5" r="1.72"/>
<circle class="p0" cx="209.5" cy="448.5" r="1.72"/>
<circle class="p0" cx="209.6" cy="448.5" r="1.72"/>
<circle class="p0" cx="209.9" cy="448.5" r="1.72"/>
<circle class="p0" cx="210.2" cy="448.5" r="1.72"/>
<circle class="p0" cx="210.5" cy="448.5" r="1.72"/>
<circle class="p0" cx="210.7" cy="448.5" r="1.72"/>
<circle class="p0" cx="210.9" cy="448.5" r="1.72"/>
<circle class="p0" cx="211.1" cy="448.5" r="1.72"/>
<circle class="p0" cx="211.4" cy="448.5" r="1.72"/>
<circle class="p0" cx="211.7" cy="448.5" r="1.72"/>
<circle class="p0" cx="212.0" cy="448.5" r="1.72"/>
<circle class="p0" cx="212.1" cy="448.5" r="1.72"/>
<circle class="p0" cx="212.4" cy="448.5" r="1.72"/>
<circle class="p1" cx="223.9" cy="323.9" r="1.72"/>
<circle class="p1" cx="227.4" cy="341.7" r="1.72"/>
<circle class="p1" cx="230.9" cy="430.7" r="1.72"/>
<circle class="p1" cx="220.9" cy="448.5" r="1.72"/>
<circle class="p1" cx="221.2" cy="448.5" r="1.72"/>
<circle class="p1" cx="221.4" cy="448.5" r="1.72"/>
<circle class="p1" cx="221.6" cy="448.5" r="1.72"/>
<circle class="p1" cx="221.8" cy="448.5" r="1.72"/>
<circle class="p1" cx="222.1" cy="448.5" r="1.72"/>
<circle class="p1" cx="222.3" cy="448.5" r="1.72"/>
<circle class="p1" cx="222.6" cy="448.5" r="1.72"/>
<circle class="p1" cx="222.8" cy="448.5" r="1.72"/>
<circle class="p1" cx="223.0" cy="448.5" r="1.72"/>
<circle class="p1" cx="223.4" cy="448.5" r="1.72"/>
<circle class="p1" cx="223.5" cy="448.5" r="1.72"/>
<circle class="p1" cx="223.7" cy="448.5" r="1.72"/>
<circle class="p1" cx="224.0" cy="448.5" r="1.72"/>
<circle class="p1" cx="224.3" cy="448.5" r="1.72"/>
<circle class="p1" cx="224.5" cy="448.5" r="1.72"/>
<circle class="p1" cx="224.8" cy="448.5" r="1.72"/>
<circle class="p1" cx="225.1" cy="448.5" r="1.72"/>
<circle class="p1" cx="225.3" cy="448.5" r="1.72"/>
<circle class="p1" cx="225.5" cy="448.5" r="1.72"/>
<circle class="p1" cx="225.7" cy="448.5" r="1.72"/>
<circle class="p1" cx="225.9" cy="448.5" r="1.72"/>
<circle class="p1" cx="226.2" cy="448.5" r="1.72"/>
<circle class="p1" cx="226.5" cy="448.5" r="1.72"/>
<circle class="p1" cx="226.7" cy="448.5" r="1.72"/>
<circle class="p1" cx="226.9" cy="448.5" r="1.72"/>
<circle class="p1" cx="227.2" cy="448.5" r="1.72"/>
<circle class="p1" cx="227.4" cy="448.5" r="1.72"/>
<circle class="p1" cx="227.7" cy="448.5" r="1.72"/>
<circle class="p1" cx="227.9" cy="448.5" r="1.72"/>
<circle class="p1" cx="228.2" cy="448.5" r="1.72"/>
<circle class="p1" cx="228.4" cy="448.5" r="1.72"/>
<circle class="p1" cx="228.6" cy="448.5" r="1.72"/>
<circle class="p1" cx="228.9" cy="448.5" r="1.72"/>
<circle class="p1" cx="229.1" cy="448.5" r="1.72"/>
<circle class="p1" cx="229.4" cy="448.5" r="1.72"/>
<circle class="p1" cx="229.6" cy="448.5" r="1.72"/>
<circle class="p1" cx="229.9" cy="448.5" r="1.72"/>
<circle class="p1" cx="230.0" cy="448.5" r="1.72"/>
<circle class="p1" cx="230.3" cy="448.5" r="1.72"/>
<circle class="p1" cx="230.5" cy="448.5" r="1.72"/>
<circle class="p1" cx="230.8" cy="448.5" r="1.72"/>
<circle class="p1" cx="231.1" cy="448.5" r="1.72"/>
<circle class="p1" cx="231.3" cy="448.5" r="1.72"/>
<circle class="p0" cx="252.9" cy="270.5" r="1.72"/>
<circle class="p0" cx="257.5" cy="288.3" r="1.72"/>
<circle class="p0" cx="257.9" cy="306.1" r="1.72"/>
<circle class="p0" cx="252.9" cy="323.9" r="1.72"/>
<circle class="p0" cx="262.5" cy="341.7" r="1.72"/>
<circle class="p0" cx="254.0" cy="359.5" r="1.72"/>
<circle class="p0" cx="254.4" cy="359.5" r="1.72"/>
<circle class="p0" cx="259.7" cy="359.5" r="1.72"/>
<circle class="p0" cx="262.5" cy="359.5" r="1.72"/>
<circle class="p0" cx="255.1" cy="395.1" r="1.72"/>
<circle class="p0" cx="259.7" cy="395.1" r="1.72"/>
<circle class="p0" cx="252.7" cy="412.9" r="1.72"/>
<circle class="p0" cx="261.0" cy="412.9" r="1.72"/>
<circle class="p0" cx="254.9" cy="430.7" r="1.72"/>
<circle class="p0" cx="256.6" cy="430.7" r="1.72"/>
<circle class="p0" cx="253.0" cy="448.5" r="1.72"/>
<circle class="p0" cx="253.3" cy="448.5" r="1.72"/>
<circle class="p0" cx="253.7" cy="448.5" r="1.72"/>
<circle class="p0" cx="254.0" cy="448.5" r="1.72"/>
<circle class="p0" cx="254.2" cy="448.5" r="1.72"/>
<circle class="p0" cx="254.7" cy="448.5" r="1.72"/>
<circle class="p0" cx="255.0" cy="448.5" r="1.72"/>
<circle class="p0" cx="255.4" cy="448.5" r="1.72"/>
<circle class="p0" cx="255.5" cy="448.5" r="1.72"/>
<circle class="p0" cx="255.9" cy="448.5" r="1.72"/>
<circle class="p0" cx="256.3" cy="448.5" r="1.72"/>
<circle class="p0" cx="256.6" cy="448.5" r="1.72"/>
<circle class="p0" cx="257.0" cy="448.5" r="1.72"/>
<circle class="p0" cx="257.1" cy="448.5" r="1.72"/>
<circle class="p0" cx="257.5" cy="448.5" r="1.72"/>
<circle class="p0" cx="257.8" cy="448.5" r="1.72"/>
<circle class="p0" cx="258.1" cy="448.5" r="1.72"/>
<circle class="p0" cx="258.6" cy="448.5" r="1.72"/>
<circle class="p0" cx="258.9" cy="448.5" r="1.72"/>
<circle class="p0" cx="259.2" cy="448.5" r="1.72"/>
<circle class="p0" cx="259.5" cy="448.5" r="1.72"/>
<circle class="p0" cx="259.9" cy="448.5" r="1.72"/>
<circle class="p0" cx="260.1" cy="448.5" r="1.72"/>
<circle class="p0" cx="260.4" cy="448.5" r="1.72"/>
<circle class="p0" cx="260.8" cy="448.5" r="1.72"/>
<circle class="p0" cx="261.2" cy="448.5" r="1.72"/>
<circle class="p0" cx="261.4" cy="448.5" r="1.72"/>
<circle class="p0" cx="261.8" cy="448.5" r="1.72"/>
<circle class="p0" cx="262.1" cy="448.5" r="1.72"/>
<circle class="p0" cx="262.3" cy="448.5" r="1.72"/>
<circle class="p1" cx="279.6" cy="323.9" r="1.72"/>
<circle class="p1" cx="276.1" cy="341.7" r="1.72"/>
<circle class="p1" cx="281.8" cy="359.5" r="1.72"/>
<circle class="p1" cx="282.2" cy="359.5" r="1.72"/>
<circle class="p1" cx="282.6" cy="359.5" r="1.72"/>
<circle class="p1" cx="275.6" cy="395.1" r="1.72"/>
<circle class="p1" cx="271.9" cy="412.9" r="1.72"/>
<circle class="p1" cx="275.6" cy="412.9" r="1.72"/>
<circle class="p1" cx="277.2" cy="412.9" r="1.72"/>
<circle class="p1" cx="278.9" cy="430.7" r="1.72"/>
<circle class="p1" cx="280.9" cy="430.7" r="1.72"/>
<circle class="p1" cx="272.8" cy="448.5" r="1.72"/>
<circle class="p1" cx="273.0" cy="448.5" r="1.72"/>
<circle class="p1" cx="273.3" cy="448.5" r="1.72"/>
<circle class="p1" cx="273.6" cy="448.5" r="1.72"/>
<circle class="p1" cx="274.0" cy="448.5" r="1.72"/>
<circle class="p1" cx="274.3" cy="448.5" r="1.72"/>
<circle class="p1" cx="274.5" cy="448.5" r="1.72"/>
<circle class="p1" cx="274.8" cy="448.5" r="1.72"/>
<circle class="p1" cx="275.1" cy="448.5" r="1.72"/>
<circle class="p1" cx="275.4" cy="448.5" r="1.72"/>
<circle class="p1" cx="275.7" cy="448.5" r="1.72"/>
<circle class="p1" cx="276.0" cy="448.5" r="1.72"/>
<circle class="p1" cx="276.2" cy="448.5" r="1.72"/>
<circle class="p1" cx="276.6" cy="448.5" r="1.72"/>
<circle class="p1" cx="276.9" cy="448.5" r="1.72"/>
<circle class="p1" cx="277.1" cy="448.5" r="1.72"/>
<circle class="p1" cx="277.4" cy="448.5" r="1.72"/>
<circle class="p1" cx="277.7" cy="448.5" r="1.72"/>
<circle class="p1" cx="278.0" cy="448.5" r="1.72"/>
<circle class="p1" cx="278.4" cy="448.5" r="1.72"/>
<circle class="p1" cx="278.5" cy="448.5" r="1.72"/>
<circle class="p1" cx="278.9" cy="448.5" r="1.72"/>
<circle class="p1" cx="279.2" cy="448.5" r="1.72"/>
<circle class="p1" cx="279.5" cy="448.5" r="1.72"/>
<circle class="p1" cx="279.7" cy="448.5" r="1.72"/>
<circle class="p1" cx="280.0" cy="448.5" r="1.72"/>
<circle class="p1" cx="280.4" cy="448.5" r="1.72"/>
<circle class="p1" cx="280.6" cy="448.5" r="1.72"/>
<circle class="p1" cx="281.0" cy="448.5" r="1.72"/>
<circle class="p1" cx="281.2" cy="448.5" r="1.72"/>
<circle class="p1" cx="281.5" cy="448.5" r="1.72"/>
<circle class="p1" cx="281.9" cy="448.5" r="1.72"/>
<circle class="p1" cx="282.2" cy="448.5" r="1.72"/>
<circle class="p1" cx="282.4" cy="448.5" r="1.72"/>
<circle class="p0" cx="313.9" cy="306.1" r="1.72"/>
<circle class="p0" cx="314.3" cy="323.9" r="1.72"/>
<circle class="p0" cx="310.4" cy="341.7" r="1.72"/>
<circle class="p0" cx="313.9" cy="341.7" r="1.72"/>
<circle class="p0" cx="313.7" cy="359.5" r="1.72"/>
<circle class="p0" cx="314.1" cy="359.5" r="1.72"/>
<circle class="p0" cx="305.6" cy="377.3" r="1.72"/>
<circle class="p0" cx="306.9" cy="377.3" r="1.72"/>
<circle class="p0" cx="305.6" cy="395.1" r="1.72"/>
<circle class="p0" cx="314.3" cy="395.1" r="1.72"/>
<circle class="p0" cx="304.0" cy="448.5" r="1.72"/>
<circle class="p0" cx="304.6" cy="448.5" r="1.72"/>
<circle class="p0" cx="305.2" cy="448.5" r="1.72"/>
<circle class="p0" cx="308.0" cy="448.5" r="1.72"/>
<circle class="p0" cx="309.0" cy="448.5" r="1.72"/>
<circle class="p0" cx="310.0" cy="448.5" r="1.72"/>
<circle class="p0" cx="311.0" cy="448.5" r="1.72"/>
<circle class="p0" cx="312.0" cy="448.5" r="1.72"/>
<circle class="p0" cx="313.0" cy="448.5" r="1.72"/>
<circle class="p0" cx="314.0" cy="448.5" r="1.72"/>
<circle class="p0" cx="314.8" cy="448.5" r="1.72"/>
<circle class="p0" cx="304.0" cy="448.5" r="1.72"/>
<circle class="p0" cx="304.6" cy="448.5" r="1.72"/>
<circle class="p0" cx="305.2" cy="448.5" r="1.72"/>
<circle class="p0" cx="308.0" cy="448.5" r="1.72"/>
<circle class="p0" cx="309.0" cy="448.5" r="1.72"/>
<circle class="p0" cx="310.0" cy="448.5" r="1.72"/>
<circle class="p0" cx="311.0" cy="448.5" r="1.72"/>
<circle class="p0" cx="312.0" cy="448.5" r="1.72"/>
<circle class="p0" cx="313.0" cy="448.5" r="1.72"/>
<circle class="p0" cx="314.0" cy="448.5" r="1.72"/>
<circle class="p0" cx="314.8" cy="448.5" r="1.72"/>
<circle class="p0" cx="304.0" cy="448.5" r="1.72"/>
<circle class="p0" cx="304.6" cy="448.5" r="1.72"/>
<circle class="p0" cx="305.2" cy="448.5" r="1.72"/>
<circle class="p0" cx="308.0" cy="448.5" r="1.72"/>
<circle class="p0" cx="309.0" cy="448.5" r="1.72"/>
<circle class="p0" cx="310.0" cy="448.5" r="1.72"/>
<circle class="p0" cx="311.0" cy="448.5" r="1.72"/>
<circle class="p0" cx="312.0" cy="448.5" r="1.72"/>
<circle class="p0" cx="313.0" cy="448.5" r="1.72"/>
<circle class="p0" cx="314.0" cy="448.5" r="1.72"/>
<circle class="p0" cx="314.8" cy="448.5" r="1.72"/>
<circle class="p1" cx="332.7" cy="323.9" r="1.72"/>
<circle class="p1" cx="333.1" cy="323.9" r="1.72"/>
<circle class="p1" cx="329.8" cy="412.9" r="1.72"/>
<circle class="p1" cx="323.1" cy="448.5" r="1.72"/>
<circle class="p1" cx="323.4" cy="448.5" r="1.72"/>
<circle class="p1" cx="323.5" cy="448.5" r="1.72"/>
<circle class="p1" cx="323.7" cy="448.5" r="1.72"/>
<circle class="p1" cx="324.1" cy="448.5" r="1.72"/>
<circle class="p1" cx="324.2" cy="448.5" r="1.72"/>
<circle class="p1" cx="324.5" cy="448.5" r="1.72"/>
<circle class="p1" cx="324.7" cy="448.5" r="1.72"/>
<circle class="p1" cx="325.0" cy="448.5" r="1.72"/>
<circle class="p1" cx="325.2" cy="448.5" r="1.72"/>
<circle class="p1" cx="325.4" cy="448.5" r="1.72"/>
<circle class="p1" cx="325.6" cy="448.5" r="1.72"/>
<circle class="p1" cx="325.9" cy="448.5" r="1.72"/>
<circle class="p1" cx="326.1" cy="448.5" r="1.72"/>
<circle class="p1" cx="326.4" cy="448.5" r="1.72"/>
<circle class="p1" cx="326.5" cy="448.5" r="1.72"/>
<circle class="p1" cx="326.8" cy="448.5" r="1.72"/>
<circle class="p1" cx="327.0" cy="448.5" r="1.72"/>
<circle class="p1" cx="327.3" cy="448.5" r="1.72"/>
<circle class="p1" cx="327.4" cy="448.5" r="1.72"/>
<circle class="p1" cx="327.7" cy="448.5" r="1.72"/>
<circle class="p1" cx="328.0" cy="448.5" r="1.72"/>
<circle class="p1" cx="328.2" cy="448.5" r="1.72"/>
<circle class="p1" cx="328.4" cy="448.5" r="1.72"/>
<circle class="p1" cx="328.6" cy="448.5" r="1.72"/>
<circle class="p1" cx="328.9" cy="448.5" r="1.72"/>
<circle class="p1" cx="329.2" cy="448.5" r="1.72"/>
<circle class="p1" cx="329.3" cy="448.5" r="1.72"/>
<circle class="p1" cx="329.5" cy="448.5" r="1.72"/>
<circle class="p1" cx="329.9" cy="448.5" r="1.72"/>
<circle class="p1" cx="330.1" cy="448.5" r="1.72"/>
<circle class="p1" cx="330.3" cy="448.5" r="1.72"/>
<circle class="p1" cx="330.4" cy="448.5" r="1.72"/>
<circle class="p1" cx="330.8" cy="448.5" r="1.72"/>
<circle class="p1" cx="330.9" cy="448.5" r="1.72"/>
<circle class="p1" cx="331.2" cy="448.5" r="1.72"/>
<circle class="p1" cx="331.4" cy="448.5" r="1.72"/>
<circle class="p1" cx="331.7" cy="448.5" r="1.72"/>
<circle class="p1" cx="331.8" cy="448.5" r="1.72"/>
<circle class="p1" cx="332.2" cy="448.5" r="1.72"/>
<circle class="p1" cx="332.3" cy="448.5" r="1.72"/>
<circle class="p1" cx="332.6" cy="448.5" r="1.72"/>
<circle class="p1" cx="332.9" cy="448.5" r="1.72"/>
<circle class="p1" cx="333.1" cy="448.5" r="1.72"/>
<circle class="p1" cx="333.2" cy="448.5" r="1.72"/>
<circle class="p1" cx="333.5" cy="448.5" r="1.72"/>
<circle class="p0" cx="358.8" cy="323.9" r="1.72"/>
<circle class="p0" cx="365.6" cy="341.7" r="1.72"/>
<circle class="p0" cx="361.0" cy="359.5" r="1.72"/>
<circle class="p0" cx="361.4" cy="359.5" r="1.72"/>
<circle class="p0" cx="358.6" cy="395.1" r="1.72"/>
<circle class="p0" cx="354.9" cy="448.5" r="1.72"/>
<circle class="p0" cx="355.2" cy="448.5" r="1.72"/>
<circle class="p0" cx="355.4" cy="448.5" r="1.72"/>
<circle class="p0" cx="355.6" cy="448.5" r="1.72"/>
<circle class="p0" cx="355.9" cy="448.5" r="1.72"/>
<circle class="p0" cx="356.2" cy="448.5" r="1.72"/>
<circle class="p0" cx="356.5" cy="448.5" r="1.72"/>
<circle class="p0" cx="356.7" cy="448.5" r="1.72"/>
<circle class="p0" cx="357.0" cy="448.5" r="1.72"/>
<circle class="p0" cx="357.3" cy="448.5" r="1.72"/>
<circle class="p0" cx="357.4" cy="448.5" r="1.72"/>
<circle class="p0" cx="357.8" cy="448.5" r="1.72"/>
<circle class="p0" cx="358.0" cy="448.5" r="1.72"/>
<circle class="p0" cx="358.3" cy="448.5" r="1.72"/>
<circle class="p0" cx="358.6" cy="448.5" r="1.72"/>
<circle class="p0" cx="358.8" cy="448.5" r="1.72"/>
<circle class="p0" cx="359.0" cy="448.5" r="1.72"/>
<circle class="p0" cx="359.3" cy="448.5" r="1.72"/>
<circle class="p0" cx="359.6" cy="448.5" r="1.72"/>
<circle class="p0" cx="359.8" cy="448.5" r="1.72"/>
<circle class="p0" cx="360.1" cy="448.5" r="1.72"/>
<circle class="p0" cx="360.4" cy="448.5" r="1.72"/>
<circle class="p0" cx="360.6" cy="448.5" r="1.72"/>
<circle class="p0" cx="360.8" cy="448.5" r="1.72"/>
<circle class="p0" cx="361.2" cy="448.5" r="1.72"/>
<circle class="p0" cx="361.4" cy="448.5" r="1.72"/>
<circle class="p0" cx="361.6" cy="448.5" r="1.72"/>
<circle class="p0" cx="362.0" cy="448.5" r="1.72"/>
<circle class="p0" cx="362.3" cy="448.5" r="1.72"/>
<circle class="p0" cx="362.5" cy="448.5" r="1.72"/>
<circle class="p0" cx="362.7" cy="448.5" r="1.72"/>
<circle class="p0" cx="363.0" cy="448.5" r="1.72"/>
<circle class="p0" cx="363.2" cy="448.5" r="1.72"/>
<circle class="p0" cx="363.5" cy="448.5" r="1.72"/>
<circle class="p0" cx="363.8" cy="448.5" r="1.72"/>
<circle class="p0" cx="364.0" cy="448.5" r="1.72"/>
<circle class="p0" cx="364.3" cy="448.5" r="1.72"/>
<circle class="p0" cx="364.6" cy="448.5" r="1.72"/>
<circle class="p0" cx="364.7" cy="448.5" r="1.72"/>
<circle class="p0" cx="365.1" cy="448.5" r="1.72"/>
<circle class="p0" cx="365.3" cy="448.5" r="1.72"/>
<circle class="p0" cx="365.6" cy="448.5" r="1.72"/>
<circle class="p1" cx="382.6" cy="323.9" r="1.72"/>
<circle class="p1" cx="377.2" cy="341.7" r="1.72"/>
<circle class="p1" cx="377.6" cy="341.7" r="1.72"/>
<circle class="p1" cx="377.4" cy="395.1" r="1.72"/>
<circle class="p1" cx="381.3" cy="412.9" r="1.72"/>
<circle class="p1" cx="378.0" cy="430.7" r="1.72"/>
<circle class="p1" cx="373.5" cy="448.5" r="1.72"/>
<circle class="p1" cx="373.8" cy="448.5" r="1.72"/>
<circle class="p1" cx="374.0" cy="448.5" r="1.72"/>
<circle class="p1" cx="374.3" cy="448.5" r="1.72"/>
<circle class="p1" cx="374.6" cy="448.5" r="1.72"/>
<circle class="p1" cx="375.0" cy="448.5" r="1.72"/>
<circle class="p1" cx="375.1" cy="448.5" r="1.72"/>
<circle class="p1" cx="375.5" cy="448.5" r="1.72"/>
<circle class="p1" cx="375.8" cy="448.5" r="1.72"/>
<circle class="p1" cx="376.0" cy="448.5" r="1.72"/>
<circle class="p1" cx="376.3" cy="448.5" r="1.72"/>
<circle class="p1" cx="376.5" cy="448.5" r="1.72"/>
<circle class="p1" cx="376.9" cy="448.5" r="1.72"/>
<circle class="p1" cx="377.1" cy="448.5" r="1.72"/>
<circle class="p1" cx="377.5" cy="448.5" r="1.72"/>
<circle class="p1" cx="377.7" cy="448.5" r="1.72"/>
<circle class="p1" cx="377.9" cy="448.5" r="1.72"/>
<circle class="p1" cx="378.3" cy="448.5" r="1.72"/>
<circle class="p1" cx="378.6" cy="448.5" r="1.72"/>
<circle class="p1" cx="378.7" cy="448.5" r="1.72"/>
<circle class="p1" cx="379.0" cy="448.5" r="1.72"/>
<circle class="p1" cx="379.4" cy="448.5" r="1.72"/>
<circle class="p1" cx="379.6" cy="448.5" r="1.72"/>
<circle class="p1" cx="380.0" cy="448.5" r="1.72"/>
<circle class="p1" cx="380.1" cy="448.5" r="1.72"/>
<circle class="p1" cx="380.5" cy="448.5" r="1.72"/>
<circle class="p1" cx="380.7" cy="448.5" r="1.72"/>
<circle class="p1" cx="381.0" cy="448.5" r="1.72"/>
<circle class="p1" cx="381.4" cy="448.5" r="1.72"/>
<circle class="p1" cx="381.5" cy="448.5" r="1.72"/>
<circle class="p1" cx="381.8" cy="448.5" r="1.72"/>
<circle class="p1" cx="382.1" cy="448.5" r="1.72"/>
<circle class="p1" cx="382.4" cy="448.5" r="1.72"/>
<circle class="p1" cx="382.6" cy="448.5" r="1.72"/>
<circle class="p1" cx="382.9" cy="448.5" r="1.72"/>
<circle class="p1" cx="383.2" cy="448.5" r="1.72"/>
<circle class="p1" cx="383.6" cy="448.5" r="1.72"/>
<circle class="p1" cx="383.8" cy="448.5" r="1.72"/>
<circle class="p1" cx="384.1" cy="448.5" r="1.72"/>
<circle class="p1" cx="384.3" cy="448.5" r="1.72"/>
<circle class="p1" cx="384.7" cy="448.5" r="1.72"/>
<circle class="p1" cx="384.8" cy="448.5" r="1.72"/>
<circle class="p0" cx="411.9" cy="270.5" r="1.72"/>
<circle class="p0" cx="405.8" cy="288.3" r="1.72"/>
<circle class="p0" cx="410.8" cy="323.9" r="1.72"/>
<circle class="p0" cx="413.2" cy="359.5" r="1.72"/>
<circle class="p0" cx="409.5" cy="395.1" r="1.72"/>
<circle class="p0" cx="414.3" cy="395.1" r="1.72"/>
<circle class="p0" cx="415.8" cy="395.1" r="1.72"/>
<circle class="p0" cx="409.1" cy="430.7" r="1.72"/>
<circle class="p0" cx="405.6" cy="448.5" r="1.72"/>
<circle class="p0" cx="405.9" cy="448.5" r="1.72"/>
<circle class="p0" cx="406.1" cy="448.5" r="1.72"/>
<circle class="p0" cx="406.5" cy="448.5" r="1.72"/>
<circle class="p0" cx="406.7" cy="448.5" r="1.72"/>
<circle class="p0" cx="406.9" cy="448.5" r="1.72"/>
<circle class="p0" cx="407.3" cy="448.5" r="1.72"/>
<circle class="p0" cx="407.4" cy="448.5" r="1.72"/>
<circle class="p0" cx="407.8" cy="448.5" r="1.72"/>
<circle class="p0" cx="408.0" cy="448.5" r="1.72"/>
<circle class="p0" cx="408.2" cy="448.5" r="1.72"/>
<circle class="p0" cx="408.6" cy="448.5" r="1.72"/>
<circle class="p0" cx="408.8" cy="448.5" r="1.72"/>
<circle class="p0" cx="409.1" cy="448.5" r="1.72"/>
<circle class="p0" cx="409.3" cy="448.5" r="1.72"/>
<circle class="p0" cx="409.6" cy="448.5" r="1.72"/>
<circle class="p0" cx="409.9" cy="448.5" r="1.72"/>
<circle class="p0" cx="410.1" cy="448.5" r="1.72"/>
<circle class="p0" cx="410.3" cy="448.5" r="1.72"/>
<circle class="p0" cx="410.7" cy="448.5" r="1.72"/>
<circle class="p0" cx="410.9" cy="448.5" r="1.72"/>
<circle class="p0" cx="411.3" cy="448.5" r="1.72"/>
<circle class="p0" cx="411.4" cy="448.5" r="1.72"/>
<circle class="p0" cx="411.8" cy="448.5" r="1.72"/>
<circle class="p0" cx="412.1" cy="448.5" r="1.72"/>
<circle class="p0" cx="412.3" cy="448.5" r="1.72"/>
<circle class="p0" cx="412.6" cy="448.5" r="1.72"/>
<circle class="p0" cx="412.8" cy="448.5" r="1.72"/>
<circle class="p0" cx="413.0" cy="448.5" r="1.72"/>
<circle class="p0" cx="413.3" cy="448.5" r="1.72"/>
<circle class="p0" cx="413.5" cy="448.5" r="1.72"/>
<circle class="p0" cx="413.9" cy="448.5" r="1.72"/>
<circle class="p0" cx="414.1" cy="448.5" r="1.72"/>
<circle class="p0" cx="414.4" cy="448.5" r="1.72"/>
<circle class="p0" cx="414.7" cy="448.5" r="1.72"/>
<circle class="p0" cx="414.9" cy="448.5" r="1.72"/>
<circle class="p0" cx="415.2" cy="448.5" r="1.72"/>
<circle class="p0" cx="415.5" cy="448.5" r="1.72"/>
<circle class="p0" cx="415.7" cy="448.5" r="1.72"/>
<circle class="p0" cx="415.9" cy="448.5" r="1.72"/>
<circle class="p1" cx="426.8" cy="323.9" r="1.72"/>
<circle class="p1" cx="427.2" cy="323.9" r="1.72"/>
<circle class="p1" cx="432.0" cy="359.5" r="1.72"/>
<circle class="p1" cx="427.0" cy="395.1" r="1.72"/>
<circle class="p1" cx="428.1" cy="395.1" r="1.72"/>
<circle class="p1" cx="435.5" cy="395.1" r="1.72"/>
<circle class="p1" cx="425.2" cy="412.9" r="1.72"/>
<circle class="p1" cx="427.9" cy="412.9" r="1.72"/>
<circle class="p1" cx="430.7" cy="412.9" r="1.72"/>
<circle class="p1" cx="424.8" cy="430.7" r="1.72"/>
<circle class="p1" cx="429.2" cy="430.7" r="1.72"/>
<circle class="p1" cx="431.8" cy="430.7" r="1.72"/>
<circle class="p1" cx="433.6" cy="430.7" r="1.72"/>
<circle class="p1" cx="435.1" cy="430.7" r="1.72"/>
<circle class="p1" cx="424.6" cy="448.5" r="1.72"/>
<circle class="p1" cx="424.9" cy="448.5" r="1.72"/>
<circle class="p1" cx="425.3" cy="448.5" r="1.72"/>
<circle class="p1" cx="425.6" cy="448.5" r="1.72"/>
<circle class="p1" cx="426.0" cy="448.5" r="1.72"/>
<circle class="p1" cx="426.4" cy="448.5" r="1.72"/>
<circle class="p1" cx="426.7" cy="448.5" r="1.72"/>
<circle class="p1" cx="427.1" cy="448.5" r="1.72"/>
<circle class="p1" cx="427.4" cy="448.5" r="1.72"/>
<circle class="p1" cx="427.7" cy="448.5" r="1.72"/>
<circle class="p1" cx="428.2" cy="448.5" r="1.72"/>
<circle class="p1" cx="428.5" cy="448.5" r="1.72"/>
<circle class="p1" cx="428.8" cy="448.5" r="1.72"/>
<circle class="p1" cx="429.1" cy="448.5" r="1.72"/>
<circle class="p1" cx="429.6" cy="448.5" r="1.72"/>
<circle class="p1" cx="430.0" cy="448.5" r="1.72"/>
<circle class="p1" cx="430.3" cy="448.5" r="1.72"/>
<circle class="p1" cx="430.6" cy="448.5" r="1.72"/>
<circle class="p1" cx="430.9" cy="448.5" r="1.72"/>
<circle class="p1" cx="431.2" cy="448.5" r="1.72"/>
<circle class="p1" cx="431.7" cy="448.5" r="1.72"/>
<circle class="p1" cx="432.1" cy="448.5" r="1.72"/>
<circle class="p1" cx="432.4" cy="448.5" r="1.72"/>
<circle class="p1" cx="432.8" cy="448.5" r="1.72"/>
<circle class="p1" cx="433.1" cy="448.5" r="1.72"/>
<circle class="p1" cx="433.6" cy="448.5" r="1.72"/>
<circle class="p1" cx="433.9" cy="448.5" r="1.72"/>
<circle class="p1" cx="434.1" cy="448.5" r="1.72"/>
<circle class="p1" cx="434.6" cy="448.5" r="1.72"/>
<circle class="p1" cx="434.8" cy="448.5" r="1.72"/>
<circle class="p0" cx="456.2" cy="341.7" r="1.72"/>
<circle class="p0" cx="466.7" cy="395.1" r="1.72"/>
<circle class="p0" cx="456.6" cy="412.9" r="1.72"/>
<circle class="p0" cx="457.0" cy="412.9" r="1.72"/>
<circle class="p0" cx="464.0" cy="430.7" r="1.72"/>
<circle class="p0" cx="456.7" cy="448.5" r="1.72"/>
<circle class="p0" cx="456.9" cy="448.5" r="1.72"/>
<circle class="p0" cx="457.1" cy="448.5" r="1.72"/>
<circle class="p0" cx="457.4" cy="448.5" r="1.72"/>
<circle class="p0" cx="457.7" cy="448.5" r="1.72"/>
<circle class="p0" cx="457.8" cy="448.5" r="1.72"/>
<circle class="p0" cx="458.2" cy="448.5" r="1.72"/>
<circle class="p0" cx="458.5" cy="448.5" r="1.72"/>
<circle class="p0" cx="458.6" cy="448.5" r="1.72"/>
<circle class="p0" cx="458.8" cy="448.5" r="1.72"/>
<circle class="p0" cx="459.1" cy="448.5" r="1.72"/>
<circle class="p0" cx="459.4" cy="448.5" r="1.72"/>
<circle class="p0" cx="459.6" cy="448.5" r="1.72"/>
<circle class="p0" cx="459.9" cy="448.5" r="1.72"/>
<circle class="p0" cx="460.0" cy="448.5" r="1.72"/>
<circle class="p0" cx="460.3" cy="448.5" r="1.72"/>
<circle class="p0" cx="460.5" cy="448.5" r="1.72"/>
<circle class="p0" cx="460.7" cy="448.5" r="1.72"/>
<circle class="p0" cx="461.1" cy="448.5" r="1.72"/>
<circle class="p0" cx="461.3" cy="448.5" r="1.72"/>
<circle class="p0" cx="461.6" cy="448.5" r="1.72"/>
<circle class="p0" cx="461.7" cy="448.5" r="1.72"/>
<circle class="p0" cx="462.1" cy="448.5" r="1.72"/>
<circle class="p0" cx="462.3" cy="448.5" r="1.72"/>
<circle class="p0" cx="462.5" cy="448.5" r="1.72"/>
<circle class="p0" cx="462.8" cy="448.5" r="1.72"/>
<circle class="p0" cx="463.0" cy="448.5" r="1.72"/>
<circle class="p0" cx="463.2" cy="448.5" r="1.72"/>
<circle class="p0" cx="463.4" cy="448.5" r="1.72"/>
<circle class="p0" cx="463.7" cy="448.5" r="1.72"/>
<circle class="p0" cx="463.9" cy="448.5" r="1.72"/>
<circle class="p0" cx="464.2" cy="448.5" r="1.72"/>
<circle class="p0" cx="464.5" cy="448.5" r="1.72"/>
<circle class="p0" cx="464.7" cy="448.5" r="1.72"/>
<circle class="p0" cx="465.0" cy="448.5" r="1.72"/>
<circle class="p0" cx="465.2" cy="448.5" r="1.72"/>
<circle class="p0" cx="465.4" cy="448.5" r="1.72"/>
<circle class="p0" cx="465.7" cy="448.5" r="1.72"/>
<circle class="p0" cx="465.9" cy="448.5" r="1.72"/>
<circle class="p0" cx="466.2" cy="448.5" r="1.72"/>
<circle class="p0" cx="466.4" cy="448.5" r="1.72"/>
<circle class="p0" cx="466.6" cy="448.5" r="1.72"/>
<circle class="p0" cx="466.9" cy="448.5" r="1.72"/>
<circle class="p0" cx="467.1" cy="448.5" r="1.72"/>
<circle class="p1" cx="477.8" cy="341.7" r="1.72"/>
<circle class="p1" cx="479.8" cy="359.5" r="1.72"/>
<circle class="p1" cx="481.5" cy="359.5" r="1.72"/>
<circle class="p1" cx="485.2" cy="359.5" r="1.72"/>
<circle class="p1" cx="482.8" cy="377.3" r="1.72"/>
<circle class="p1" cx="477.2" cy="395.1" r="1.72"/>
<circle class="p1" cx="478.3" cy="395.1" r="1.72"/>
<circle class="p1" cx="482.6" cy="395.1" r="1.72"/>
<circle class="p1" cx="482.0" cy="412.9" r="1.72"/>
<circle class="p1" cx="482.4" cy="412.9" r="1.72"/>
<circle class="p1" cx="478.3" cy="430.7" r="1.72"/>
<circle class="p1" cx="480.0" cy="430.7" r="1.72"/>
<circle class="p1" cx="482.0" cy="430.7" r="1.72"/>
<circle class="p1" cx="484.0" cy="430.7" r="1.72"/>
<circle class="p1" cx="486.0" cy="430.7" r="1.72"/>
<circle class="p1" cx="475.4" cy="448.5" r="1.72"/>
<circle class="p1" cx="475.9" cy="448.5" r="1.72"/>
<circle class="p1" cx="476.0" cy="448.5" r="1.72"/>
<circle class="p1" cx="476.5" cy="448.5" r="1.72"/>
<circle class="p1" cx="476.8" cy="448.5" r="1.72"/>
<circle class="p1" cx="477.3" cy="448.5" r="1.72"/>
<circle class="p1" cx="477.7" cy="448.5" r="1.72"/>
<circle class="p1" cx="478.0" cy="448.5" r="1.72"/>
<circle class="p1" cx="478.3" cy="448.5" r="1.72"/>
<circle class="p1" cx="478.8" cy="448.5" r="1.72"/>
<circle class="p1" cx="479.1" cy="448.5" r="1.72"/>
<circle class="p1" cx="479.4" cy="448.5" r="1.72"/>
<circle class="p1" cx="479.9" cy="448.5" r="1.72"/>
<circle class="p1" cx="480.2" cy="448.5" r="1.72"/>
<circle class="p1" cx="480.6" cy="448.5" r="1.72"/>
<circle class="p1" cx="481.0" cy="448.5" r="1.72"/>
<circle class="p1" cx="481.4" cy="448.5" r="1.72"/>
<circle class="p1" cx="481.7" cy="448.5" r="1.72"/>
<circle class="p1" cx="482.1" cy="448.5" r="1.72"/>
<circle class="p1" cx="482.5" cy="448.5" r="1.72"/>
<circle class="p1" cx="482.9" cy="448.5" r="1.72"/>
<circle class="p1" cx="483.1" cy="448.5" r="1.72"/>
<circle class="p1" cx="483.6" cy="448.5" r="1.72"/>
<circle class="p1" cx="483.9" cy="448.5" r="1.72"/>
<circle class="p1" cx="484.2" cy="448.5" r="1.72"/>
<circle class="p1" cx="484.6" cy="448.5" r="1.72"/>
<circle class="p1" cx="485.0" cy="448.5" r="1.72"/>
<circle class="p1" cx="485.3" cy="448.5" r="1.72"/>
<circle class="p1" cx="485.8" cy="448.5" r="1.72"/>
<circle class="p1" cx="486.0" cy="448.5" r="1.72"/>
<circle class="p0" cx="508.0" cy="306.1" r="1.72"/>
<circle class="p0" cx="516.5" cy="306.1" r="1.72"/>
<circle class="p0" cx="511.3" cy="323.9" r="1.72"/>
<circle class="p0" cx="512.6" cy="341.7" r="1.72"/>
<circle class="p0" cx="516.1" cy="341.7" r="1.72"/>
<circle class="p0" cx="516.5" cy="341.7" r="1.72"/>
<circle class="p0" cx="507.8" cy="359.5" r="1.72"/>
<circle class="p0" cx="512.6" cy="359.5" r="1.72"/>
<circle class="p0" cx="513.2" cy="377.3" r="1.72"/>
<circle class="p0" cx="515.0" cy="377.3" r="1.72"/>
<circle class="p0" cx="518.0" cy="377.3" r="1.72"/>
<circle class="p0" cx="511.5" cy="395.1" r="1.72"/>
<circle class="p0" cx="508.0" cy="430.7" r="1.72"/>
<circle class="p0" cx="517.8" cy="430.7" r="1.72"/>
<circle class="p0" cx="507.5" cy="448.5" r="1.72"/>
<circle class="p0" cx="507.7" cy="448.5" r="1.72"/>
<circle class="p0" cx="508.2" cy="448.5" r="1.72"/>
<circle class="p0" cx="508.4" cy="448.5" r="1.72"/>
<circle class="p0" cx="508.7" cy="448.5" r="1.72"/>
<circle class="p0" cx="509.0" cy="448.5" r="1.72"/>
<circle class="p0" cx="509.4" cy="448.5" r="1.72"/>
<circle class="p0" cx="509.8" cy="448.5" r="1.72"/>
<circle class="p0" cx="510.1" cy="448.5" r="1.72"/>
<circle class="p0" cx="510.5" cy="448.5" r="1.72"/>
<circle class="p0" cx="510.8" cy="448.5" r="1.72"/>
<circle class="p0" cx="511.0" cy="448.5" r="1.72"/>
<circle class="p0" cx="511.4" cy="448.5" r="1.72"/>
<circle class="p0" cx="511.7" cy="448.5" r="1.72"/>
<circle class="p0" cx="512.1" cy="448.5" r="1.72"/>
<circle class="p0" cx="512.4" cy="448.5" r="1.72"/>
<circle class="p0" cx="512.8" cy="448.5" r="1.72"/>
<circle class="p0" cx="512.9" cy="448.5" r="1.72"/>
<circle class="p0" cx="513.4" cy="448.5" r="1.72"/>
<circle class="p0" cx="513.7" cy="448.5" r="1.72"/>
<circle class="p0" cx="514.1" cy="448.5" r="1.72"/>
<circle class="p0" cx="514.2" cy="448.5" r="1.72"/>
<circle class="p0" cx="514.6" cy="448.5" r="1.72"/>
<circle class="p0" cx="514.9" cy="448.5" r="1.72"/>
<circle class="p0" cx="515.2" cy="448.5" r="1.72"/>
<circle class="p0" cx="515.7" cy="448.5" r="1.72"/>
<circle class="p0" cx="516.0" cy="448.5" r="1.72"/>
<circle class="p0" cx="516.3" cy="448.5" r="1.72"/>
<circle class="p0" cx="516.6" cy="448.5" r="1.72"/>
<circle class="p0" cx="516.9" cy="448.5" r="1.72"/>
<circle class="p0" cx="517.2" cy="448.5" r="1.72"/>
<circle class="p0" cx="517.5" cy="448.5" r="1.72"/>
<circle class="p0" cx="517.8" cy="448.5" r="1.72"/>
<circle class="p0" cx="518.2" cy="448.5" r="1.72"/>
<circle class="p1" cx="528.3" cy="341.7" r="1.72"/>
<circle class="p1" cx="536.0" cy="341.7" r="1.72"/>
<circle class="p1" cx="536.0" cy="359.5" r="1.72"/>
<circle class="p1" cx="529.2" cy="377.3" r="1.72"/>
<circle class="p1" cx="530.9" cy="377.3" r="1.72"/>
<circle class="p1" cx="536.4" cy="377.3" r="1.72"/>
<circle class="p1" cx="527.2" cy="395.1" r="1.72"/>
<circle class="p1" cx="532.5" cy="395.1" r="1.72"/>
<circle class="p1" cx="530.5" cy="412.9" r="1.72"/>
<circle class="p1" cx="532.7" cy="412.9" r="1.72"/>
<circle class="p1" cx="535.7" cy="412.9" r="1.72"/>
<circle class="p1" cx="529.8" cy="430.7" r="1.72"/>
<circle class="p1" cx="533.6" cy="430.7" r="1.72"/>
<circle class="p1" cx="526.6" cy="448.5" r="1.72"/>
<circle class="p1" cx="526.9" cy="448.5" r="1.72"/>
<circle class="p1" cx="527.2" cy="448.5" r="1.72"/>
<circle class="p1" cx="527.4" cy="448.5" r="1.72"/>
<circle class="p1" cx="527.8" cy="448.5" r="1.72"/>
<circle class="p1" cx="528.1" cy="448.5" r="1.72"/>
<circle class="p1" cx="528.5" cy="448.5" r="1.72"/>
<circle class="p1" cx="528.7" cy="448.5" r="1.72"/>
<circle class="p1" cx="529.0" cy="448.5" r="1.72"/>
<circle class="p1" cx="529.5" cy="448.5" r="1.72"/>
<circle class="p1" cx="529.7" cy="448.5" r="1.72"/>
<circle class="p1" cx="530.1" cy="448.5" r="1.72"/>
<circle class="p1" cx="530.3" cy="448.5" r="1.72"/>
<circle class="p1" cx="530.5" cy="448.5" r="1.72"/>
<circle class="p1" cx="530.9" cy="448.5" r="1.72"/>
<circle class="p1" cx="531.2" cy="448.5" r="1.72"/>
<circle class="p1" cx="531.6" cy="448.5" r="1.72"/>
<circle class="p1" cx="531.8" cy="448.5" r="1.72"/>
<circle class="p1" cx="532.2" cy="448.5" r="1.72"/>
<circle class="p1" cx="532.5" cy="448.5" r="1.72"/>
<circle class="p1" cx="532.7" cy="448.5" r="1.72"/>
<circle class="p1" cx="533.1" cy="448.5" r="1.72"/>
<circle class="p1" cx="533.3" cy="448.5" r="1.72"/>
<circle class="p1" cx="533.8" cy="448.5" r="1.72"/>
<circle class="p1" cx="533.9" cy="448.5" r="1.72"/>
<circle class="p1" cx="534.2" cy="448.5" r="1.72"/>
<circle class="p1" cx="534.6" cy="448.5" r="1.72"/>
<circle class="p1" cx="535.0" cy="448.5" r="1.72"/>
<circle class="p1" cx="535.3" cy="448.5" r="1.72"/>
<circle class="p1" cx="535.5" cy="448.5" r="1.72"/>
<circle class="p1" cx="535.9" cy="448.5" r="1.72"/>
<circle class="p1" cx="536.2" cy="448.5" r="1.72"/>
<circle class="p1" cx="536.5" cy="448.5" r="1.72"/>
<circle class="p1" cx="536.7" cy="448.5" r="1.72"/>
<circle class="p1" cx="537.1" cy="448.5" r="1.72"/>
<circle class="p1" cx="537.4" cy="448.5" r="1.72"/>
<circle class="p0" cx="564.8" cy="270.5" r="1.72"/>
<circle class="p0" cx="568.5" cy="270.5" r="1.72"/>
<circle class="p0" cx="558.0" cy="323.9" r="1.72"/>
<circle class="p0" cx="562.0" cy="323.9" r="1.72"/>
<circle class="p0" cx="562.4" cy="323.9" r="1.72"/>
<circle class="p0" cx="563.1" cy="359.5" r="1.72"/>
<circle class="p0" cx="566.6" cy="359.5" r="1.72"/>
<circle class="p0" cx="562.0" cy="377.3" r="1.72"/>
<circle class="p0" cx="562.4" cy="377.3" r="1.72"/>
<circle class="p0" cx="558.7" cy="395.1" r="1.72"/>
<circle class="p0" cx="564.4" cy="395.1" r="1.72"/>
<circle class="p0" cx="567.7" cy="395.1" r="1.72"/>
<circle class="p0" cx="558.9" cy="412.9" r="1.72"/>
<circle class="p0" cx="563.3" cy="412.9" r="1.72"/>
<circle class="p0" cx="559.8" cy="430.7" r="1.72"/>
<circle class="p0" cx="560.2" cy="430.7" r="1.72"/>
<circle class="p0" cx="568.7" cy="430.7" r="1.72"/>
<circle class="p0" cx="559.5" cy="448.5" r="1.72"/>
<circle class="p0" cx="559.7" cy="448.5" r="1.72"/>
<circle class="p0" cx="560.1" cy="448.5" r="1.72"/>
<circle class="p0" cx="560.3" cy="448.5" r="1.72"/>
<circle class="p0" cx="560.6" cy="448.5" r="1.72"/>
<circle class="p0" cx="561.1" cy="448.5" r="1.72"/>
<circle class="p0" cx="561.3" cy="448.5" r="1.72"/>
<circle class="p0" cx="561.6" cy="448.5" r="1.72"/>
<circle class="p0" cx="562.0" cy="448.5" r="1.72"/>
<circle class="p0" cx="562.2" cy="448.5" r="1.72"/>
<circle class="p0" cx="562.7" cy="448.5" r="1.72"/>
<circle class="p0" cx="563.0" cy="448.5" r="1.72"/>
<circle class="p0" cx="563.3" cy="448.5" r="1.72"/>
<circle class="p0" cx="563.6" cy="448.5" r="1.72"/>
<circle class="p0" cx="563.9" cy="448.5" r="1.72"/>
<circle class="p0" cx="564.2" cy="448.5" r="1.72"/>
<circle class="p0" cx="564.6" cy="448.5" r="1.72"/>
<circle class="p0" cx="565.0" cy="448.5" r="1.72"/>
<circle class="p0" cx="565.2" cy="448.5" r="1.72"/>
<circle class="p0" cx="565.6" cy="448.5" r="1.72"/>
<circle class="p0" cx="565.8" cy="448.5" r="1.72"/>
<circle class="p0" cx="566.1" cy="448.5" r="1.72"/>
<circle class="p0" cx="566.5" cy="448.5" r="1.72"/>
<circle class="p0" cx="566.9" cy="448.5" r="1.72"/>
<circle class="p0" cx="567.2" cy="448.5" r="1.72"/>
<circle class="p0" cx="567.5" cy="448.5" r="1.72"/>
<circle class="p0" cx="567.9" cy="448.5" r="1.72"/>
<circle class="p0" cx="568.1" cy="448.5" r="1.72"/>
<circle class="p0" cx="568.5" cy="448.5" r="1.72"/>
<circle class="p0" cx="568.8" cy="448.5" r="1.72"/>
<circle class="p1" cx="579.0" cy="359.5" r="1.72"/>
<circle class="p1" cx="581.2" cy="359.5" r="1.72"/>
<circle class="p1" cx="584.9" cy="359.5" r="1.72"/>
<circle class="p1" cx="577.9" cy="377.3" r="1.72"/>
<circle class="p1" cx="581.2" cy="377.3" r="1.72"/>
<circle class="p1" cx="586.4" cy="377.3" r="1.72"/>
<circle class="p1" cx="577.7" cy="412.9" r="1.72"/>
<circle class="p1" cx="583.0" cy="412.9" r="1.72"/>
<circle class="p1" cx="580.1" cy="430.7" r="1.72"/>
<circle class="p1" cx="577.0" cy="448.5" r="1.72"/>
<circle class="p1" cx="577.3" cy="448.5" r="1.72"/>
<circle class="p1" cx="577.6" cy="448.5" r="1.72"/>
<circle class="p1" cx="577.8" cy="448.5" r="1.72"/>
<circle class="p1" cx="578.1" cy="448.5" r="1.72"/>
<circle class="p1" cx="578.4" cy="448.5" r="1.72"/>
<circle class="p1" cx="578.8" cy="448.5" r="1.72"/>
<circle class="p1" cx="579.0" cy="448.5" r="1.72"/>
<circle class="p1" cx="579.3" cy="448.5" r="1.72"/>
<circle class="p1" cx="579.5" cy="448.5" r="1.72"/>
<circle class="p1" cx="579.9" cy="448.5" r="1.72"/>
<circle class="p1" cx="580.2" cy="448.5" r="1.72"/>
<circle class="p1" cx="580.5" cy="448.5" r="1.72"/>
<circle class="p1" cx="580.7" cy="448.5" r="1.72"/>
<circle class="p1" cx="581.0" cy="448.5" r="1.72"/>
<circle class="p1" cx="581.4" cy="448.5" r="1.72"/>
<circle class="p1" cx="581.5" cy="448.5" r="1.72"/>
<circle class="p1" cx="581.8" cy="448.5" r="1.72"/>
<circle class="p1" cx="582.1" cy="448.5" r="1.72"/>
<circle class="p1" cx="582.5" cy="448.5" r="1.72"/>
<circle class="p1" cx="582.8" cy="448.5" r="1.72"/>
<circle class="p1" cx="583.0" cy="448.5" r="1.72"/>
<circle class="p1" cx="583.2" cy="448.5" r="1.72"/>
<circle class="p1" cx="583.5" cy="448.5" r="1.72"/>
<circle class="p1" cx="583.8" cy="448.5" r="1.72"/>
<circle class="p1" cx="584.2" cy="448.5" r="1.72"/>
<circle class="p1" cx="584.4" cy="448.5" r="1.72"/>
<circle class="p1" cx="584.7" cy="448.5" r="1.72"/>
<circle class="p1" cx="585.0" cy="448.5" r="1.72"/>
<circle class="p1" cx="585.4" cy="448.5" r="1.72"/>
<circle class="p1" cx="585.6" cy="448.5" r="1.72"/>
<circle class="p1" cx="585.8" cy="448.5" r="1.72"/>
<circle class="p1" cx="586.2" cy="448.5" r="1.72"/>
<circle class="p1" cx="586.4" cy="448.5" r="1.72"/>
<circle class="p1" cx="586.7" cy="448.5" r="1.72"/>
<circle class="p1" cx="587.1" cy="448.5" r="1.72"/>
<circle class="p1" cx="587.4" cy="448.5" r="1.72"/>
<circle class="p1" cx="587.6" cy="448.5" r="1.72"/>
<path class="ax" d="M33.8 261.60V457.40H603.1"/>
<path class="ax" d="M31.10 448.50H33.8"/>
<text class="tk" style="font-size:8.2px" x="29" y="451.90" text-anchor="end">0.0</text>
<path class="ax" d="M31.10 404.00H33.8"/>
<text class="tk" style="font-size:8.2px" x="29" y="407.40" text-anchor="end">2.5</text>
<path class="ax" d="M31.10 359.50H33.8"/>
<text class="tk" style="font-size:8.2px" x="29" y="362.90" text-anchor="end">5.0</text>
<path class="ax" d="M31.10 315.00H33.8"/>
<text class="tk" style="font-size:8.2px" x="29" y="318.40" text-anchor="end">7.5</text>
<path class="ax" d="M31.10 270.50H33.8"/>
<text class="tk" style="font-size:8.2px" x="29" y="273.90" text-anchor="end">10.0</text>
<path class="ax" d="M64.50 457.40v2.1"/>
<text class="tk" x="64.50" y="469.20" text-anchor="middle">Tiring.</text>
<path class="ax" d="M115.50 457.40v2.1"/>
<text class="tk" x="115.50" y="469.20" text-anchor="middle">Sick.</text>
<path class="ax" d="M166.40 457.40v2.1"/>
<text class="tk" x="166.40" y="469.20" text-anchor="middle">Fearful.</text>
<path class="ax" d="M217.40 457.40v2.1"/>
<text class="tk" x="217.40" y="469.20" text-anchor="middle">Punish.</text>
<path class="ax" d="M267.30 457.40v2.1"/>
<text class="tk" x="267.30" y="469.20" text-anchor="middle">Electric.</text>
<path class="ax" d="M318.40 457.40v2.1"/>
<text class="tk" x="318.40" y="469.20" text-anchor="middle">Cold.</text>
<path class="ax" d="M369.20 457.40v2.1"/>
<text class="tk" x="369.20" y="469.20" text-anchor="middle">Piercing.</text>
<path class="ax" d="M420.30 457.40v2.1"/>
<text class="tk" x="420.30" y="469.20" text-anchor="middle">Touch.</text>
<path class="ax" d="M471.20 457.40v2.1"/>
<text class="tk" x="471.20" y="469.20" text-anchor="middle">Itching.</text>
<path class="ax" d="M522.20 457.40v2.1"/>
<text class="tk" x="522.20" y="469.20" text-anchor="middle">Tingling.</text>
<path class="ax" d="M572.40 457.40v2.1"/>
<text class="tk" x="572.40" y="469.20" text-anchor="middle">Numbness.</text>
<text class="ti" x="318.4" y="480.70" text-anchor="middle">description</text>
<text class="ti" style="stroke-width:.2" transform="translate(8.8 359.00) rotate(-90)" text-anchor="middle">intensity</text>
<path d="M52.95 263.6H67.8" stroke="#808080" stroke-width="1"/>
<text x="58.55" y="257.8" style="font-size:9.5px;fill:#000;stroke:#000;stroke-width:.15">*</text>
<path d="M462.95 263.6H477.8" stroke="#808080" stroke-width="1"/>
<text x="468.55" y="257.8" style="font-size:9.5px;fill:#000;stroke:#000;stroke-width:.15">*</text>
<text class="ti" x="618.5" y="344.60">period</text>
<path class="bx" d="M627.5 352.15V365.15"/>
<rect x="621.3" y="354.45" width="12.5" height="8.4" fill="#fff" stroke="#2a2a2a" stroke-width=".8"/>
<path class="bx" d="M621.3 358.65H633.8"/>
<circle class="p0" cx="627.5" cy="358.65" r="1.72"/>
<text class="lg" x="640.4" y="361.95">pre</text>
<path class="bx" d="M627.5 368.80V381.80"/>
<rect x="621.3" y="371.10" width="12.5" height="8.4" fill="#fff" stroke="#2a2a2a" stroke-width=".8"/>
<path class="bx" d="M621.3 375.30H633.8"/>
<circle class="p1" cx="627.5" cy="375.30" r="1.72"/>
<text class="lg" x="640.4" y="378.60">post</text>
</g>
<text x="640.3" y="469.7" textLength="43.9" lengthAdjust="spacingAndGlyphs" style="font-size:15.8px;fill:#000;stroke:#000;stroke-width:.2">N = 52</text>
<g style="font-size:10.2px;fill:#000;stroke:#000;stroke-width:.1">
<text x="523.6" y="499.5">*</text>
<text x="528.2" y="499.5" textLength="38.0" lengthAdjust="spacingAndGlyphs">: p&lt;0.05,</text>
<text x="568.9" y="499.5" letter-spacing="1.05">**</text>
<text x="579.3" y="499.5" textLength="38.0" lengthAdjust="spacingAndGlyphs">: p&lt;0.01,</text>
<text x="620.1" y="499.5" letter-spacing="1.05">***</text>
<text x="634.4" y="499.5" textLength="41.2" lengthAdjust="spacingAndGlyphs">: p&lt;0.001</text>
</g>
</svg></body></html>
